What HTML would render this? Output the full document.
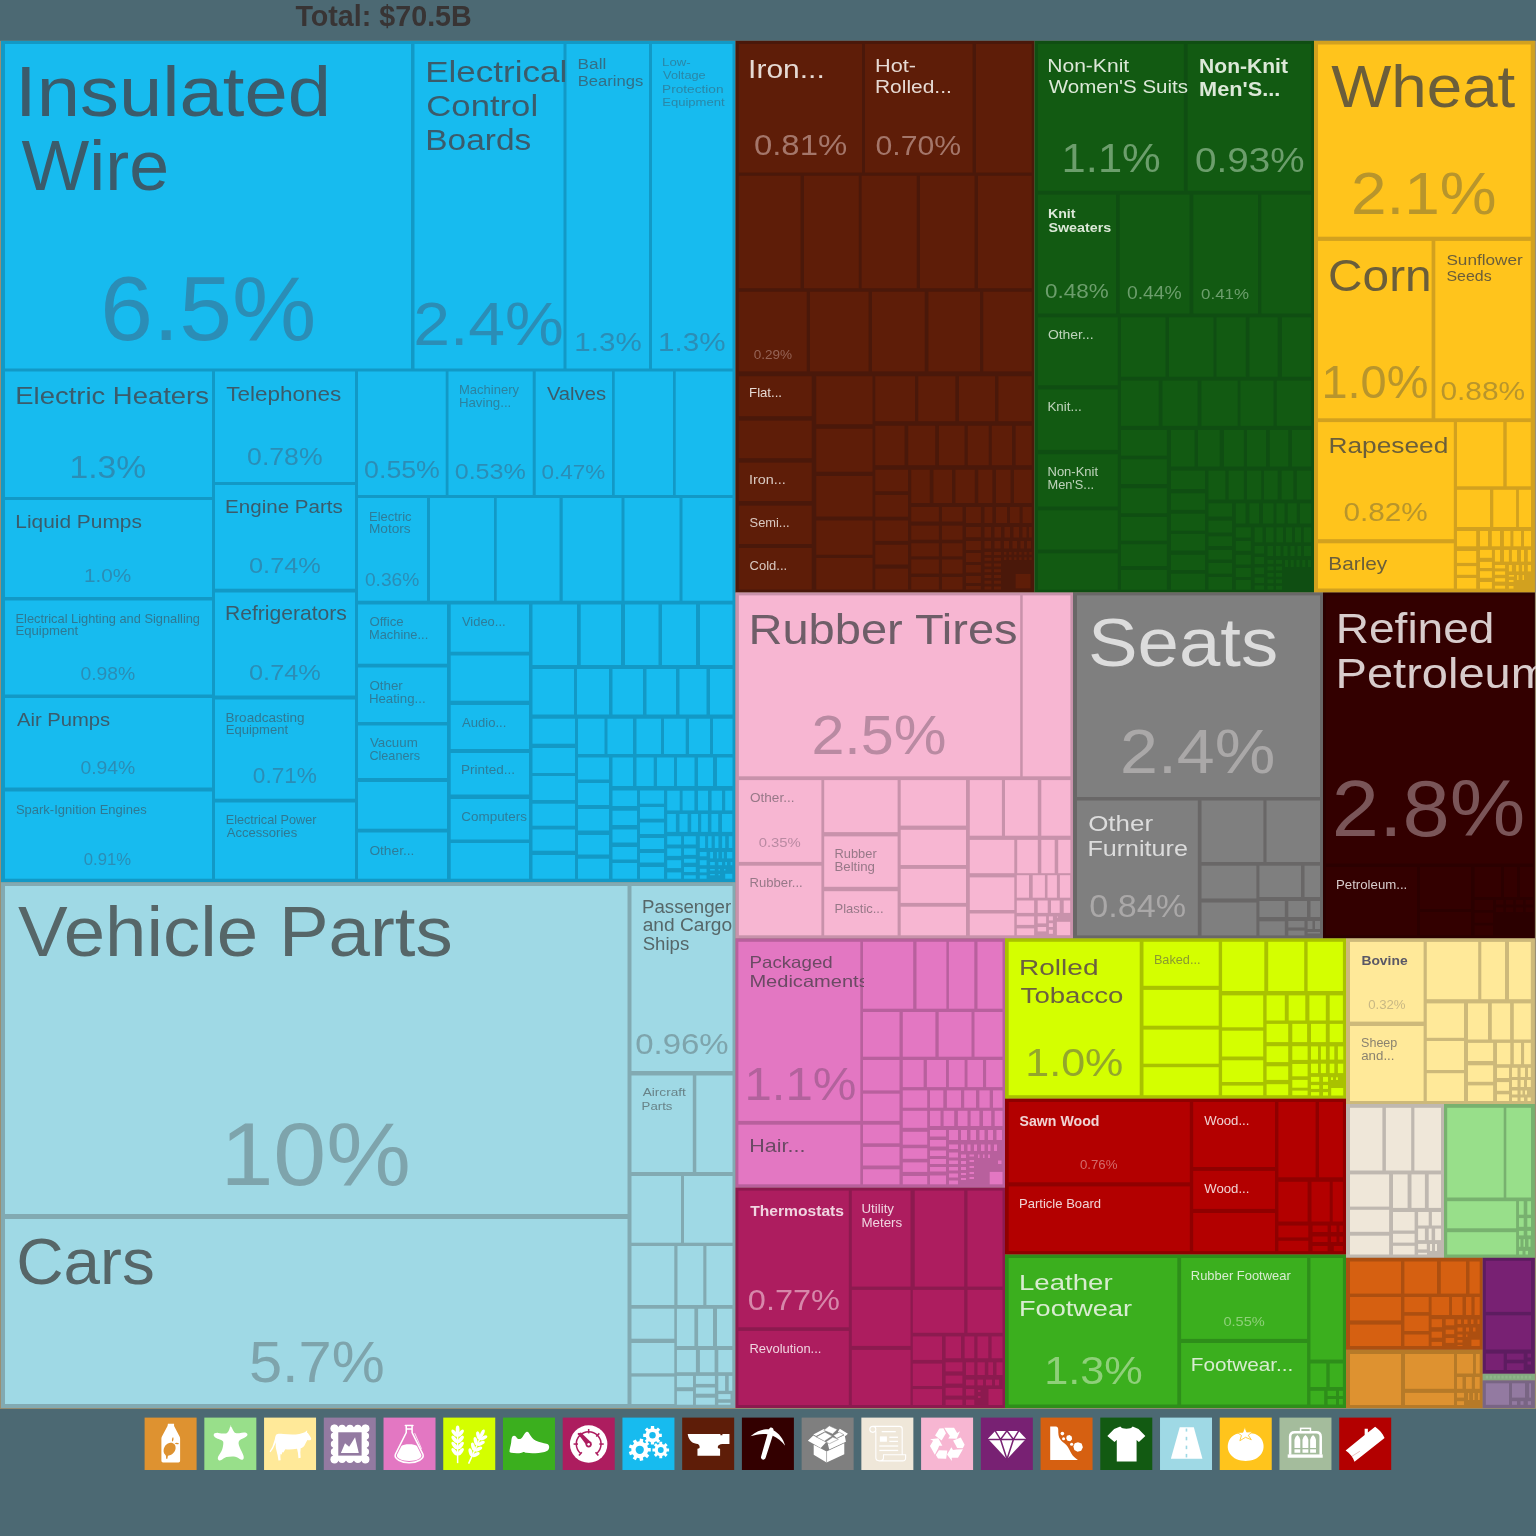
<!DOCTYPE html>
<html><head><meta charset="utf-8"><title>Treemap</title>
<style>
html,body{margin:0;padding:0;background:#4c6973;}
body{width:1536px;height:1536px;overflow:hidden;font-family:"Liberation Sans",sans-serif;}
svg{display:block;font-family:"Liberation Sans",sans-serif;filter:blur(0.55px);}
</style></head><body>
<svg width="1536" height="1536" viewBox="0 0 1536 1536">
<rect x="0" y="0" width="1536" height="1536" fill="#4c6973"/>
<defs><clipPath id="c0"><rect x="738.0" y="970.0" width="126.0" height="22.0"/></clipPath></defs>
<g>
<rect x="0.0" y="40.8" width="1536.0" height="1368.1" fill="#9a8f72"/>
<rect x="1.0" y="40.8" width="734.5" height="841.5" fill="#1299c6"/>
<rect x="5.0" y="44.0" width="406.0" height="324.5" fill="#17bbef"/>
<rect x="414.5" y="44.0" width="149.0" height="324.5" fill="#17bbef"/>
<rect x="566.5" y="44.0" width="82.5" height="324.5" fill="#17bbef"/>
<rect x="652.0" y="44.0" width="80.5" height="324.5" fill="#17bbef"/>
<rect x="5.0" y="371.5" width="207.0" height="125.5" fill="#17bbef"/>
<rect x="5.0" y="500.0" width="207.0" height="97.0" fill="#17bbef"/>
<rect x="5.0" y="600.5" width="207.0" height="94.0" fill="#17bbef"/>
<rect x="5.0" y="698.0" width="207.0" height="89.5" fill="#17bbef"/>
<rect x="5.0" y="791.5" width="207.0" height="87.2" fill="#17bbef"/>
<rect x="215.0" y="371.5" width="140.0" height="110.5" fill="#17bbef"/>
<rect x="215.0" y="485.0" width="140.0" height="103.7" fill="#17bbef"/>
<rect x="215.0" y="592.5" width="140.0" height="103.0" fill="#17bbef"/>
<rect x="215.0" y="699.5" width="140.0" height="99.2" fill="#17bbef"/>
<rect x="215.0" y="802.5" width="140.0" height="76.2" fill="#17bbef"/>
<rect x="358.0" y="371.5" width="87.7" height="123.5" fill="#17bbef"/>
<rect x="448.5" y="371.5" width="84.2" height="123.5" fill="#17bbef"/>
<rect x="535.7" y="371.5" width="76.3" height="123.5" fill="#17bbef"/>
<rect x="614.7" y="371.5" width="58.3" height="123.5" fill="#17bbef"/>
<rect x="675.7" y="371.5" width="56.8" height="123.5" fill="#17bbef"/>
<rect x="358.0" y="498.0" width="69.0" height="102.7" fill="#17bbef"/>
<rect x="430.0" y="498.0" width="64.0" height="102.7" fill="#17bbef"/>
<rect x="496.7" y="498.0" width="62.8" height="102.7" fill="#17bbef"/>
<rect x="562.7" y="498.0" width="58.8" height="102.7" fill="#17bbef"/>
<rect x="624.5" y="498.0" width="55.0" height="102.7" fill="#17bbef"/>
<rect x="682.5" y="498.0" width="50.0" height="102.7" fill="#17bbef"/>
<rect x="358.0" y="604.5" width="89.0" height="59.2" fill="#17bbef"/>
<rect x="358.0" y="667.5" width="89.0" height="54.5" fill="#17bbef"/>
<rect x="358.0" y="725.5" width="89.0" height="52.5" fill="#17bbef"/>
<rect x="358.0" y="782.0" width="89.0" height="46.7" fill="#17bbef"/>
<rect x="358.0" y="832.5" width="89.0" height="46.2" fill="#17bbef"/>
<rect x="450.7" y="604.5" width="78.3" height="47.2" fill="#17bbef"/>
<rect x="450.7" y="655.5" width="78.3" height="45.2" fill="#17bbef"/>
<rect x="450.7" y="705.0" width="78.3" height="44.0" fill="#17bbef"/>
<rect x="450.7" y="753.0" width="78.3" height="41.5" fill="#17bbef"/>
<rect x="450.7" y="799.0" width="78.3" height="40.5" fill="#17bbef"/>
<rect x="450.7" y="843.0" width="78.3" height="35.7" fill="#17bbef"/>
<rect x="532.5" y="604.5" width="44.5" height="60.5" fill="#17bbef"/>
<rect x="580.7" y="604.5" width="40.3" height="60.5" fill="#17bbef"/>
<rect x="625.0" y="604.5" width="33.5" height="60.5" fill="#17bbef"/>
<rect x="662.0" y="604.5" width="34.0" height="60.5" fill="#17bbef"/>
<rect x="700.0" y="604.5" width="32.5" height="60.5" fill="#17bbef"/>
<rect x="532.5" y="669.0" width="41.5" height="45.5" fill="#17bbef"/>
<rect x="577.0" y="669.0" width="32.0" height="45.5" fill="#17bbef"/>
<rect x="612.5" y="669.0" width="30.5" height="45.5" fill="#17bbef"/>
<rect x="646.5" y="669.0" width="29.5" height="45.5" fill="#17bbef"/>
<rect x="679.5" y="669.0" width="27.0" height="45.5" fill="#17bbef"/>
<rect x="710.0" y="669.0" width="22.5" height="45.5" fill="#17bbef"/>
<rect x="532.5" y="718.7" width="42.5" height="25.0" fill="#17bbef"/>
<rect x="532.5" y="748.0" width="42.5" height="25.0" fill="#17bbef"/>
<rect x="532.5" y="776.0" width="42.5" height="24.0" fill="#17bbef"/>
<rect x="532.5" y="803.7" width="42.5" height="22.0" fill="#17bbef"/>
<rect x="532.5" y="829.5" width="42.5" height="21.2" fill="#17bbef"/>
<rect x="532.5" y="855.0" width="42.5" height="23.7" fill="#17bbef"/>
<rect x="578.0" y="718.7" width="26.5" height="35.3" fill="#17bbef"/>
<rect x="607.5" y="718.7" width="25.5" height="35.3" fill="#17bbef"/>
<rect x="636.5" y="718.7" width="24.5" height="35.3" fill="#17bbef"/>
<rect x="664.0" y="718.7" width="21.7" height="35.3" fill="#17bbef"/>
<rect x="689.0" y="718.7" width="21.0" height="35.3" fill="#17bbef"/>
<rect x="713.0" y="718.7" width="19.5" height="35.3" fill="#17bbef"/>
<rect x="578.0" y="757.5" width="31.0" height="22.0" fill="#17bbef"/>
<rect x="578.0" y="783.0" width="31.0" height="22.0" fill="#17bbef"/>
<rect x="578.0" y="809.0" width="31.0" height="21.5" fill="#17bbef"/>
<rect x="578.0" y="835.0" width="31.0" height="19.5" fill="#17bbef"/>
<rect x="578.0" y="858.7" width="31.0" height="20.0" fill="#17bbef"/>
<rect x="612.5" y="757.5" width="20.5" height="28.5" fill="#17bbef"/>
<rect x="636.5" y="757.5" width="17.2" height="28.5" fill="#17bbef"/>
<rect x="657.0" y="757.5" width="17.0" height="28.5" fill="#17bbef"/>
<rect x="677.0" y="757.5" width="17.5" height="28.5" fill="#17bbef"/>
<rect x="698.0" y="757.5" width="15.0" height="28.5" fill="#17bbef"/>
<rect x="717.0" y="757.5" width="15.5" height="28.5" fill="#17bbef"/>
<rect x="612.5" y="790.5" width="24.5" height="15.5" fill="#17bbef"/>
<rect x="612.5" y="810.7" width="24.5" height="14.3" fill="#17bbef"/>
<rect x="612.5" y="829.5" width="24.5" height="13.0" fill="#17bbef"/>
<rect x="612.5" y="847.0" width="24.5" height="12.5" fill="#17bbef"/>
<rect x="612.5" y="863.0" width="24.5" height="15.7" fill="#17bbef"/>
<rect x="640.0" y="790.5" width="24.0" height="13.2" fill="#17bbef"/>
<rect x="640.0" y="807.0" width="24.0" height="11.7" fill="#17bbef"/>
<rect x="640.0" y="822.5" width="24.0" height="11.5" fill="#17bbef"/>
<rect x="640.0" y="838.0" width="24.0" height="11.0" fill="#17bbef"/>
<rect x="640.0" y="853.0" width="24.0" height="9.5" fill="#17bbef"/>
<rect x="640.0" y="867.0" width="24.0" height="11.7" fill="#17bbef"/>
<rect x="667.2" y="790.7" width="12.5" height="19.7" fill="#17bbef"/>
<rect x="682.6" y="790.7" width="11.8" height="19.7" fill="#17bbef"/>
<rect x="698.0" y="790.7" width="10.0" height="19.7" fill="#17bbef"/>
<rect x="711.6" y="790.7" width="10.4" height="19.7" fill="#17bbef"/>
<rect x="725.2" y="790.7" width="7.1" height="19.7" fill="#17bbef"/>
<rect x="667.2" y="814.0" width="8.7" height="17.9" fill="#17bbef"/>
<rect x="679.5" y="814.0" width="8.1" height="17.9" fill="#17bbef"/>
<rect x="691.2" y="814.0" width="6.8" height="17.9" fill="#17bbef"/>
<rect x="701.2" y="814.0" width="6.7" height="17.9" fill="#17bbef"/>
<rect x="711.4" y="814.0" width="6.8" height="17.9" fill="#17bbef"/>
<rect x="722.0" y="814.0" width="10.3" height="17.9" fill="#17bbef"/>
<rect x="667.2" y="836.2" width="13.9" height="8.3" fill="#17bbef"/>
<rect x="667.2" y="848.4" width="13.9" height="7.5" fill="#17bbef"/>
<rect x="667.2" y="860.2" width="13.9" height="7.9" fill="#17bbef"/>
<rect x="667.2" y="872.4" width="13.9" height="6.3" fill="#17bbef"/>
<rect x="684.0" y="836.2" width="11.8" height="8.3" fill="#17bbef"/>
<rect x="684.0" y="848.4" width="11.8" height="6.5" fill="#17bbef"/>
<rect x="684.0" y="858.8" width="11.8" height="3.9" fill="#17bbef"/>
<rect x="684.0" y="867.0" width="11.8" height="5.0" fill="#17bbef"/>
<rect x="684.0" y="875.3" width="11.8" height="3.4" fill="#17bbef"/>
<rect x="699.8" y="836.2" width="5.3" height="11.8" fill="#17bbef"/>
<rect x="708.1" y="836.2" width="3.5" height="11.8" fill="#17bbef"/>
<rect x="714.8" y="836.2" width="3.6" height="11.8" fill="#17bbef"/>
<rect x="722.1" y="836.2" width="3.1" height="11.8" fill="#17bbef"/>
<rect x="728.8" y="836.2" width="3.5" height="11.8" fill="#17bbef"/>
<rect x="699.8" y="852.0" width="6.8" height="4.3" fill="#17bbef"/>
<rect x="699.8" y="860.2" width="6.8" height="5.0" fill="#17bbef"/>
<rect x="699.8" y="868.8" width="6.8" height="3.6" fill="#17bbef"/>
<rect x="699.8" y="875.3" width="6.8" height="3.4" fill="#17bbef"/>
<rect x="710.1" y="852.0" width="2.9" height="6.4" fill="#17bbef"/>
<rect x="716.9" y="852.0" width="1.5" height="6.4" fill="#17bbef"/>
<rect x="722.1" y="852.0" width="1.7" height="6.4" fill="#17bbef"/>
<rect x="727.0" y="852.0" width="5.3" height="6.4" fill="#17bbef"/>
<rect x="710.1" y="862.0" width="4.7" height="3.2" fill="#17bbef"/>
<rect x="718.4" y="862.0" width="3.6" height="3.2" fill="#17bbef"/>
<rect x="725.2" y="862.0" width="1.8" height="3.2" fill="#17bbef"/>
<rect x="730.6" y="862.0" width="1.7" height="3.2" fill="#17bbef"/>
<rect x="710.1" y="869.0" width="4.7" height="1.5" fill="#17bbef"/>
<rect x="718.5" y="869.0" width="1.5" height="1.5" fill="#17bbef"/>
<rect x="724.0" y="869.0" width="1.5" height="1.5" fill="#17bbef"/>
<rect x="710.1" y="874.0" width="4.7" height="1.3" fill="#17bbef"/>
<rect x="718.5" y="874.0" width="1.5" height="1.3" fill="#17bbef"/>
<rect x="725.2" y="873.8" width="7.1" height="4.9" fill="#17bbef"/>
<rect x="1.0" y="882.3" width="734.5" height="525.7" fill="#82aab2"/>
<rect x="5.0" y="886.0" width="622.5" height="328.0" fill="#9fd9e5"/>
<rect x="5.0" y="1219.0" width="622.5" height="185.0" fill="#9fd9e5"/>
<rect x="631.5" y="886.0" width="101.0" height="185.0" fill="#9fd9e5"/>
<rect x="631.5" y="1075.5" width="61.3" height="96.5" fill="#9fd9e5"/>
<rect x="696.3" y="1075.5" width="36.2" height="96.5" fill="#9fd9e5"/>
<rect x="631.5" y="1176.0" width="49.5" height="66.7" fill="#9fd9e5"/>
<rect x="684.0" y="1176.0" width="48.5" height="66.7" fill="#9fd9e5"/>
<rect x="631.5" y="1246.0" width="42.8" height="59.0" fill="#9fd9e5"/>
<rect x="677.5" y="1246.0" width="25.8" height="59.0" fill="#9fd9e5"/>
<rect x="706.4" y="1246.0" width="26.1" height="59.0" fill="#9fd9e5"/>
<rect x="631.5" y="1308.7" width="42.8" height="30.0" fill="#9fd9e5"/>
<rect x="631.5" y="1343.0" width="42.8" height="30.3" fill="#9fd9e5"/>
<rect x="631.5" y="1376.6" width="42.8" height="27.4" fill="#9fd9e5"/>
<rect x="676.9" y="1308.8" width="17.5" height="37.2" fill="#9fd9e5"/>
<rect x="698.1" y="1308.8" width="14.9" height="37.2" fill="#9fd9e5"/>
<rect x="717.0" y="1308.8" width="15.3" height="37.2" fill="#9fd9e5"/>
<rect x="676.9" y="1350.0" width="19.0" height="22.2" fill="#9fd9e5"/>
<rect x="699.9" y="1350.0" width="14.7" height="22.2" fill="#9fd9e5"/>
<rect x="718.3" y="1350.0" width="14.0" height="22.2" fill="#9fd9e5"/>
<rect x="676.9" y="1375.9" width="16.1" height="11.3" fill="#9fd9e5"/>
<rect x="676.9" y="1391.2" width="16.1" height="13.5" fill="#9fd9e5"/>
<rect x="695.9" y="1375.9" width="19.0" height="8.0" fill="#9fd9e5"/>
<rect x="695.9" y="1387.5" width="19.0" height="6.2" fill="#9fd9e5"/>
<rect x="695.9" y="1397.7" width="19.0" height="7.0" fill="#9fd9e5"/>
<rect x="718.3" y="1375.9" width="6.8" height="14.9" fill="#9fd9e5"/>
<rect x="728.7" y="1375.9" width="3.6" height="14.9" fill="#9fd9e5"/>
<rect x="718.3" y="1394.1" width="12.2" height="5.1" fill="#9fd9e5"/>
<rect x="718.3" y="1402.8" width="12.2" height="1.9" fill="#9fd9e5"/>
<rect x="735.5" y="40.8" width="299.0" height="551.7" fill="#4a180a"/>
<rect x="738.7" y="44.0" width="123.3" height="128.6" fill="#5e1d08"/>
<rect x="865.0" y="44.0" width="107.6" height="128.6" fill="#5e1d08"/>
<rect x="976.0" y="44.0" width="55.7" height="128.6" fill="#5e1d08"/>
<rect x="738.7" y="175.7" width="61.9" height="112.6" fill="#5e1d08"/>
<rect x="804.0" y="175.7" width="54.8" height="112.6" fill="#5e1d08"/>
<rect x="861.6" y="175.7" width="55.1" height="112.6" fill="#5e1d08"/>
<rect x="920.0" y="175.7" width="54.6" height="112.6" fill="#5e1d08"/>
<rect x="978.0" y="175.7" width="53.7" height="112.6" fill="#5e1d08"/>
<rect x="738.7" y="291.7" width="68.0" height="79.7" fill="#5e1d08"/>
<rect x="810.0" y="291.7" width="58.6" height="79.7" fill="#5e1d08"/>
<rect x="872.0" y="291.7" width="52.7" height="79.7" fill="#5e1d08"/>
<rect x="928.4" y="291.7" width="51.6" height="79.7" fill="#5e1d08"/>
<rect x="983.3" y="291.7" width="48.4" height="79.7" fill="#5e1d08"/>
<rect x="738.7" y="376.2" width="73.0" height="40.0" fill="#5e1d08"/>
<rect x="738.7" y="420.6" width="73.0" height="37.6" fill="#5e1d08"/>
<rect x="738.7" y="462.6" width="73.0" height="38.4" fill="#5e1d08"/>
<rect x="738.7" y="505.6" width="73.0" height="38.4" fill="#5e1d08"/>
<rect x="738.7" y="548.0" width="73.0" height="41.5" fill="#5e1d08"/>
<rect x="816.2" y="376.2" width="56.3" height="48.1" fill="#5e1d08"/>
<rect x="816.2" y="428.7" width="56.3" height="43.0" fill="#5e1d08"/>
<rect x="816.2" y="476.0" width="56.3" height="40.5" fill="#5e1d08"/>
<rect x="816.2" y="520.5" width="56.3" height="34.3" fill="#5e1d08"/>
<rect x="816.2" y="558.0" width="56.3" height="31.5" fill="#5e1d08"/>
<rect x="875.3" y="376.2" width="39.7" height="45.0" fill="#5e1d08"/>
<rect x="918.3" y="376.2" width="37.1" height="45.0" fill="#5e1d08"/>
<rect x="959.0" y="376.2" width="36.0" height="45.0" fill="#5e1d08"/>
<rect x="998.4" y="376.2" width="33.3" height="45.0" fill="#5e1d08"/>
<rect x="875.3" y="425.7" width="29.3" height="39.5" fill="#5e1d08"/>
<rect x="908.2" y="425.7" width="27.0" height="39.5" fill="#5e1d08"/>
<rect x="938.9" y="425.7" width="25.6" height="39.5" fill="#5e1d08"/>
<rect x="967.7" y="425.7" width="21.0" height="39.5" fill="#5e1d08"/>
<rect x="991.8" y="425.7" width="20.2" height="39.5" fill="#5e1d08"/>
<rect x="1015.6" y="425.7" width="16.1" height="39.5" fill="#5e1d08"/>
<rect x="875.3" y="469.7" width="32.7" height="21.6" fill="#5e1d08"/>
<rect x="875.3" y="494.9" width="32.7" height="21.8" fill="#5e1d08"/>
<rect x="875.3" y="520.5" width="32.7" height="20.4" fill="#5e1d08"/>
<rect x="875.3" y="544.7" width="32.7" height="19.8" fill="#5e1d08"/>
<rect x="875.3" y="568.6" width="32.7" height="20.9" fill="#5e1d08"/>
<rect x="911.2" y="469.7" width="18.6" height="33.3" fill="#5e1d08"/>
<rect x="933.4" y="469.7" width="18.6" height="33.3" fill="#5e1d08"/>
<rect x="955.4" y="469.7" width="19.4" height="33.3" fill="#5e1d08"/>
<rect x="978.2" y="469.7" width="14.2" height="33.3" fill="#5e1d08"/>
<rect x="996.0" y="469.7" width="14.5" height="33.3" fill="#5e1d08"/>
<rect x="1014.0" y="469.7" width="17.7" height="33.3" fill="#5e1d08"/>
<rect x="911.2" y="507.0" width="27.7" height="14.5" fill="#5e1d08"/>
<rect x="911.2" y="525.6" width="27.7" height="14.1" fill="#5e1d08"/>
<rect x="911.2" y="543.3" width="27.7" height="13.1" fill="#5e1d08"/>
<rect x="911.2" y="559.5" width="27.7" height="14.1" fill="#5e1d08"/>
<rect x="911.2" y="577.0" width="27.7" height="12.5" fill="#5e1d08"/>
<rect x="942.0" y="507.0" width="20.5" height="14.5" fill="#5e1d08"/>
<rect x="942.0" y="525.6" width="20.5" height="14.1" fill="#5e1d08"/>
<rect x="942.0" y="543.3" width="20.5" height="13.1" fill="#5e1d08"/>
<rect x="942.0" y="559.5" width="20.5" height="14.1" fill="#5e1d08"/>
<rect x="942.0" y="577.0" width="20.5" height="12.5" fill="#5e1d08"/>
<rect x="966.0" y="507.0" width="14.9" height="16.0" fill="#5e1d08"/>
<rect x="966.0" y="527.0" width="14.9" height="10.3" fill="#5e1d08"/>
<rect x="966.0" y="541.0" width="14.9" height="9.0" fill="#5e1d08"/>
<rect x="966.0" y="553.0" width="14.9" height="9.0" fill="#5e1d08"/>
<rect x="966.0" y="565.0" width="14.9" height="7.6" fill="#5e1d08"/>
<rect x="966.0" y="576.0" width="14.9" height="7.0" fill="#5e1d08"/>
<rect x="966.0" y="586.0" width="14.9" height="3.5" fill="#5e1d08"/>
<rect x="984.5" y="507.0" width="7.9" height="16.0" fill="#5e1d08"/>
<rect x="996.0" y="507.0" width="11.0" height="16.0" fill="#5e1d08"/>
<rect x="1010.0" y="507.0" width="9.6" height="16.0" fill="#5e1d08"/>
<rect x="1022.6" y="507.0" width="9.1" height="16.0" fill="#5e1d08"/>
<rect x="984.5" y="527.0" width="6.5" height="10.5" fill="#5e1d08"/>
<rect x="994.5" y="527.0" width="6.5" height="10.5" fill="#5e1d08"/>
<rect x="1004.5" y="527.0" width="5.5" height="10.5" fill="#5e1d08"/>
<rect x="1013.5" y="527.0" width="5.5" height="10.5" fill="#5e1d08"/>
<rect x="1022.5" y="527.0" width="4.0" height="10.5" fill="#5e1d08"/>
<rect x="1029.0" y="527.0" width="2.7" height="10.5" fill="#5e1d08"/>
<rect x="984.5" y="541.0" width="6.5" height="7.5" fill="#5e1d08"/>
<rect x="994.5" y="541.0" width="6.0" height="7.5" fill="#5e1d08"/>
<rect x="1004.0" y="541.0" width="5.0" height="7.5" fill="#5e1d08"/>
<rect x="1012.5" y="541.0" width="4.5" height="7.5" fill="#5e1d08"/>
<rect x="1020.5" y="541.0" width="3.5" height="7.5" fill="#5e1d08"/>
<rect x="1027.0" y="541.0" width="4.0" height="7.5" fill="#5e1d08"/>
<rect x="984.5" y="552.0" width="6.9" height="3.1" fill="#5e1d08"/>
<rect x="984.5" y="557.7" width="6.9" height="3.1" fill="#5e1d08"/>
<rect x="984.5" y="563.5" width="6.9" height="3.1" fill="#5e1d08"/>
<rect x="984.5" y="569.2" width="6.9" height="3.1" fill="#5e1d08"/>
<rect x="984.5" y="574.9" width="6.9" height="3.1" fill="#5e1d08"/>
<rect x="984.5" y="580.6" width="6.9" height="3.1" fill="#5e1d08"/>
<rect x="984.5" y="586.4" width="6.9" height="3.1" fill="#5e1d08"/>
<rect x="994.0" y="552.0" width="7.0" height="3.1" fill="#5e1d08"/>
<rect x="994.0" y="557.7" width="7.0" height="3.1" fill="#5e1d08"/>
<rect x="994.0" y="563.5" width="7.0" height="3.1" fill="#5e1d08"/>
<rect x="994.0" y="569.2" width="7.0" height="3.1" fill="#5e1d08"/>
<rect x="994.0" y="574.9" width="7.0" height="3.1" fill="#5e1d08"/>
<rect x="994.0" y="580.6" width="7.0" height="3.1" fill="#5e1d08"/>
<rect x="994.0" y="586.4" width="7.0" height="3.1" fill="#5e1d08"/>
<rect x="1004.0" y="552.0" width="2.4" height="2.7" fill="#5e1d08"/>
<rect x="1004.0" y="557.3" width="2.4" height="2.7" fill="#5e1d08"/>
<rect x="1009.0" y="552.0" width="2.5" height="2.7" fill="#5e1d08"/>
<rect x="1009.0" y="557.3" width="2.5" height="2.7" fill="#5e1d08"/>
<rect x="1014.1" y="552.0" width="2.4" height="2.7" fill="#5e1d08"/>
<rect x="1014.1" y="557.3" width="2.4" height="2.7" fill="#5e1d08"/>
<rect x="1019.1" y="552.0" width="2.5" height="2.7" fill="#5e1d08"/>
<rect x="1019.1" y="557.3" width="2.5" height="2.7" fill="#5e1d08"/>
<rect x="1024.2" y="552.0" width="2.5" height="2.7" fill="#5e1d08"/>
<rect x="1024.2" y="557.3" width="2.5" height="2.7" fill="#5e1d08"/>
<rect x="1029.2" y="552.0" width="2.5" height="2.7" fill="#5e1d08"/>
<rect x="1029.2" y="557.3" width="2.5" height="2.7" fill="#5e1d08"/>
<rect x="1015.6" y="574.0" width="15.0" height="14.4" fill="#5e1d08"/>
<rect x="1034.5" y="40.8" width="279.5" height="551.7" fill="#0f4e12"/>
<rect x="1038.0" y="44.0" width="145.9" height="146.8" fill="#125a12"/>
<rect x="1187.6" y="44.0" width="123.7" height="146.8" fill="#125a12"/>
<rect x="1038.0" y="194.6" width="78.0" height="118.9" fill="#125a12"/>
<rect x="1119.7" y="194.6" width="69.8" height="118.9" fill="#125a12"/>
<rect x="1193.3" y="194.6" width="64.7" height="118.9" fill="#125a12"/>
<rect x="1261.3" y="194.6" width="50.0" height="118.9" fill="#125a12"/>
<rect x="1038.0" y="317.3" width="79.8" height="68.0" fill="#125a12"/>
<rect x="1038.0" y="389.4" width="79.8" height="60.5" fill="#125a12"/>
<rect x="1038.0" y="454.2" width="79.8" height="52.3" fill="#125a12"/>
<rect x="1038.0" y="510.3" width="79.8" height="39.2" fill="#125a12"/>
<rect x="1038.0" y="553.3" width="79.8" height="36.4" fill="#125a12"/>
<rect x="1121.0" y="317.3" width="44.5" height="59.5" fill="#125a12"/>
<rect x="1169.0" y="317.3" width="44.5" height="59.5" fill="#125a12"/>
<rect x="1216.5" y="317.3" width="29.3" height="59.5" fill="#125a12"/>
<rect x="1249.5" y="317.3" width="28.2" height="59.5" fill="#125a12"/>
<rect x="1282.0" y="317.3" width="29.3" height="59.5" fill="#125a12"/>
<rect x="1121.0" y="380.6" width="37.7" height="45.3" fill="#125a12"/>
<rect x="1162.5" y="380.6" width="35.1" height="45.3" fill="#125a12"/>
<rect x="1201.4" y="380.6" width="36.3" height="45.3" fill="#125a12"/>
<rect x="1240.5" y="380.6" width="33.0" height="45.3" fill="#125a12"/>
<rect x="1276.7" y="380.6" width="34.6" height="45.3" fill="#125a12"/>
<rect x="1121.0" y="430.0" width="45.9" height="25.7" fill="#125a12"/>
<rect x="1121.0" y="459.3" width="45.9" height="24.7" fill="#125a12"/>
<rect x="1121.0" y="488.2" width="45.9" height="25.1" fill="#125a12"/>
<rect x="1121.0" y="516.9" width="45.9" height="23.8" fill="#125a12"/>
<rect x="1121.0" y="544.2" width="45.9" height="21.9" fill="#125a12"/>
<rect x="1121.0" y="569.9" width="45.9" height="19.8" fill="#125a12"/>
<rect x="1171.0" y="430.0" width="23.6" height="36.5" fill="#125a12"/>
<rect x="1198.0" y="430.0" width="21.7" height="36.5" fill="#125a12"/>
<rect x="1224.0" y="430.0" width="19.9" height="36.5" fill="#125a12"/>
<rect x="1247.0" y="430.0" width="19.0" height="36.5" fill="#125a12"/>
<rect x="1269.8" y="430.0" width="18.5" height="36.5" fill="#125a12"/>
<rect x="1292.0" y="430.0" width="19.3" height="36.5" fill="#125a12"/>
<rect x="1171.0" y="470.6" width="34.0" height="18.4" fill="#125a12"/>
<rect x="1171.0" y="493.3" width="34.0" height="16.6" fill="#125a12"/>
<rect x="1171.0" y="513.7" width="34.0" height="17.0" fill="#125a12"/>
<rect x="1171.0" y="533.9" width="34.0" height="16.6" fill="#125a12"/>
<rect x="1171.0" y="554.8" width="34.0" height="15.2" fill="#125a12"/>
<rect x="1171.0" y="573.7" width="34.0" height="16.0" fill="#125a12"/>
<rect x="1208.4" y="470.6" width="17.0" height="28.9" fill="#125a12"/>
<rect x="1228.6" y="470.6" width="15.3" height="28.9" fill="#125a12"/>
<rect x="1247.0" y="470.6" width="14.3" height="28.9" fill="#125a12"/>
<rect x="1264.0" y="470.6" width="13.7" height="28.9" fill="#125a12"/>
<rect x="1281.6" y="470.6" width="11.8" height="28.9" fill="#125a12"/>
<rect x="1296.8" y="470.6" width="14.5" height="28.9" fill="#125a12"/>
<rect x="1208.4" y="503.3" width="23.6" height="13.2" fill="#125a12"/>
<rect x="1208.4" y="520.6" width="23.6" height="11.9" fill="#125a12"/>
<rect x="1208.4" y="536.3" width="23.6" height="9.7" fill="#125a12"/>
<rect x="1208.4" y="550.0" width="23.6" height="9.5" fill="#125a12"/>
<rect x="1208.4" y="563.0" width="23.6" height="10.7" fill="#125a12"/>
<rect x="1208.4" y="577.0" width="23.6" height="12.7" fill="#125a12"/>
<rect x="1235.8" y="503.3" width="9.8" height="20.2" fill="#125a12"/>
<rect x="1249.4" y="503.3" width="9.6" height="20.2" fill="#125a12"/>
<rect x="1263.0" y="503.3" width="10.5" height="20.2" fill="#125a12"/>
<rect x="1276.4" y="503.3" width="8.1" height="20.2" fill="#125a12"/>
<rect x="1287.7" y="503.3" width="9.1" height="20.2" fill="#125a12"/>
<rect x="1300.0" y="503.3" width="11.3" height="20.2" fill="#125a12"/>
<rect x="1235.8" y="527.3" width="15.1" height="10.3" fill="#125a12"/>
<rect x="1235.8" y="541.0" width="15.1" height="9.9" fill="#125a12"/>
<rect x="1235.8" y="554.8" width="15.1" height="9.8" fill="#125a12"/>
<rect x="1235.8" y="568.0" width="15.1" height="9.0" fill="#125a12"/>
<rect x="1235.8" y="580.0" width="15.1" height="9.7" fill="#125a12"/>
<rect x="1254.6" y="527.3" width="8.0" height="15.1" fill="#125a12"/>
<rect x="1266.0" y="527.3" width="7.5" height="15.1" fill="#125a12"/>
<rect x="1276.4" y="527.3" width="6.6" height="15.1" fill="#125a12"/>
<rect x="1286.0" y="527.3" width="6.0" height="15.1" fill="#125a12"/>
<rect x="1295.0" y="527.3" width="6.0" height="15.1" fill="#125a12"/>
<rect x="1303.7" y="527.3" width="7.6" height="15.1" fill="#125a12"/>
<rect x="1254.6" y="546.0" width="9.4" height="7.5" fill="#125a12"/>
<rect x="1254.6" y="557.0" width="9.4" height="7.0" fill="#125a12"/>
<rect x="1254.6" y="567.5" width="9.4" height="6.5" fill="#125a12"/>
<rect x="1254.6" y="577.5" width="9.4" height="5.5" fill="#125a12"/>
<rect x="1254.6" y="585.5" width="9.4" height="4.2" fill="#125a12"/>
<rect x="1267.5" y="546.0" width="5.5" height="10.0" fill="#125a12"/>
<rect x="1276.0" y="546.0" width="4.5" height="10.0" fill="#125a12"/>
<rect x="1283.5" y="546.0" width="4.0" height="10.0" fill="#125a12"/>
<rect x="1290.5" y="546.0" width="4.0" height="10.0" fill="#125a12"/>
<rect x="1297.5" y="546.0" width="3.5" height="10.0" fill="#125a12"/>
<rect x="1304.0" y="546.0" width="7.0" height="10.0" fill="#125a12"/>
<rect x="1267.5" y="560.0" width="6.0" height="3.9" fill="#125a12"/>
<rect x="1267.5" y="566.5" width="6.0" height="3.9" fill="#125a12"/>
<rect x="1267.5" y="572.9" width="6.0" height="3.9" fill="#125a12"/>
<rect x="1267.5" y="579.4" width="6.0" height="3.9" fill="#125a12"/>
<rect x="1267.5" y="585.8" width="6.0" height="3.9" fill="#125a12"/>
<rect x="1276.0" y="560.0" width="6.0" height="3.9" fill="#125a12"/>
<rect x="1276.0" y="566.5" width="6.0" height="3.9" fill="#125a12"/>
<rect x="1276.0" y="572.9" width="6.0" height="3.9" fill="#125a12"/>
<rect x="1276.0" y="579.4" width="6.0" height="3.9" fill="#125a12"/>
<rect x="1276.0" y="585.8" width="6.0" height="3.9" fill="#125a12"/>
<rect x="1285.0" y="560.0" width="3.1" height="7.0" fill="#125a12"/>
<rect x="1290.7" y="560.0" width="3.1" height="7.0" fill="#125a12"/>
<rect x="1296.4" y="560.0" width="3.1" height="7.0" fill="#125a12"/>
<rect x="1302.2" y="560.0" width="3.1" height="7.0" fill="#125a12"/>
<rect x="1307.9" y="560.0" width="3.1" height="7.0" fill="#125a12"/>
<rect x="1314.0" y="40.8" width="220.9" height="551.7" fill="#d2a11f"/>
<rect x="1318.0" y="44.5" width="212.7" height="192.2" fill="#ffc41c"/>
<rect x="1318.0" y="240.9" width="113.6" height="177.4" fill="#ffc41c"/>
<rect x="1435.3" y="240.9" width="95.4" height="177.4" fill="#ffc41c"/>
<rect x="1318.0" y="422.1" width="135.8" height="117.1" fill="#ffc41c"/>
<rect x="1318.0" y="543.3" width="135.8" height="45.2" fill="#ffc41c"/>
<rect x="1457.0" y="422.1" width="46.3" height="64.2" fill="#ffc41c"/>
<rect x="1506.7" y="422.1" width="24.0" height="64.2" fill="#ffc41c"/>
<rect x="1457.0" y="489.8" width="33.0" height="37.2" fill="#ffc41c"/>
<rect x="1493.3" y="489.8" width="22.8" height="37.2" fill="#ffc41c"/>
<rect x="1518.9" y="489.8" width="12.1" height="37.2" fill="#ffc41c"/>
<rect x="1457.0" y="531.0" width="19.2" height="15.3" fill="#ffc41c"/>
<rect x="1480.0" y="531.0" width="8.0" height="15.3" fill="#ffc41c"/>
<rect x="1491.8" y="531.0" width="8.2" height="15.3" fill="#ffc41c"/>
<rect x="1503.9" y="531.0" width="6.5" height="15.3" fill="#ffc41c"/>
<rect x="1513.4" y="531.0" width="7.6" height="15.3" fill="#ffc41c"/>
<rect x="1524.0" y="531.0" width="7.0" height="15.3" fill="#ffc41c"/>
<rect x="1457.0" y="551.0" width="19.2" height="11.9" fill="#ffc41c"/>
<rect x="1457.0" y="566.1" width="19.2" height="8.7" fill="#ffc41c"/>
<rect x="1457.0" y="578.0" width="19.2" height="10.6" fill="#ffc41c"/>
<rect x="1480.0" y="549.9" width="11.9" height="7.9" fill="#ffc41c"/>
<rect x="1480.0" y="561.9" width="11.9" height="6.1" fill="#ffc41c"/>
<rect x="1480.0" y="571.2" width="11.9" height="6.6" fill="#ffc41c"/>
<rect x="1480.0" y="582.0" width="11.9" height="6.6" fill="#ffc41c"/>
<rect x="1494.9" y="549.9" width="5.1" height="11.7" fill="#ffc41c"/>
<rect x="1504.0" y="549.9" width="4.9" height="11.7" fill="#ffc41c"/>
<rect x="1511.9" y="549.9" width="5.1" height="11.7" fill="#ffc41c"/>
<rect x="1521.0" y="549.9" width="3.0" height="11.7" fill="#ffc41c"/>
<rect x="1527.8" y="549.9" width="3.2" height="11.7" fill="#ffc41c"/>
<rect x="1494.9" y="565.0" width="10.2" height="3.4" fill="#ffc41c"/>
<rect x="1494.9" y="571.4" width="10.2" height="3.4" fill="#ffc41c"/>
<rect x="1494.9" y="578.2" width="10.2" height="3.4" fill="#ffc41c"/>
<rect x="1494.9" y="585.7" width="10.2" height="2.9" fill="#ffc41c"/>
<rect x="1508.9" y="565.0" width="3.0" height="6.4" fill="#ffc41c"/>
<rect x="1516.1" y="565.0" width="2.6" height="6.4" fill="#ffc41c"/>
<rect x="1522.1" y="565.0" width="1.9" height="6.4" fill="#ffc41c"/>
<rect x="1527.8" y="565.0" width="3.2" height="6.4" fill="#ffc41c"/>
<rect x="1508.9" y="575.0" width="5.1" height="1.6" fill="#ffc41c"/>
<rect x="1508.9" y="580.0" width="4.6" height="2.0" fill="#ffc41c"/>
<rect x="1508.9" y="586.0" width="4.6" height="2.6" fill="#ffc41c"/>
<rect x="1517.0" y="575.0" width="1.6" height="5.0" fill="#ffc41c"/>
<rect x="1522.5" y="575.0" width="1.5" height="5.0" fill="#ffc41c"/>
<rect x="735.5" y="592.5" width="337.5" height="345.9" fill="#c892ab"/>
<rect x="738.9" y="595.4" width="281.3" height="180.9" fill="#f7b6d2"/>
<rect x="1022.7" y="595.4" width="47.7" height="180.9" fill="#f7b6d2"/>
<rect x="738.9" y="780.1" width="82.5" height="81.8" fill="#f7b6d2"/>
<rect x="738.9" y="865.7" width="82.5" height="69.6" fill="#f7b6d2"/>
<rect x="824.2" y="780.1" width="73.4" height="52.0" fill="#f7b6d2"/>
<rect x="824.2" y="836.4" width="73.4" height="50.4" fill="#f7b6d2"/>
<rect x="824.2" y="891.2" width="73.4" height="44.1" fill="#f7b6d2"/>
<rect x="900.7" y="780.1" width="65.3" height="45.5" fill="#f7b6d2"/>
<rect x="900.7" y="829.8" width="65.3" height="35.2" fill="#f7b6d2"/>
<rect x="900.7" y="868.9" width="65.3" height="34.0" fill="#f7b6d2"/>
<rect x="900.7" y="906.7" width="65.3" height="28.6" fill="#f7b6d2"/>
<rect x="969.8" y="780.1" width="32.1" height="55.6" fill="#f7b6d2"/>
<rect x="1005.0" y="780.1" width="32.8" height="55.6" fill="#f7b6d2"/>
<rect x="1041.3" y="780.1" width="29.1" height="55.6" fill="#f7b6d2"/>
<rect x="969.8" y="839.9" width="44.5" height="33.3" fill="#f7b6d2"/>
<rect x="1017.2" y="839.9" width="20.6" height="33.3" fill="#f7b6d2"/>
<rect x="1041.3" y="839.9" width="13.4" height="33.3" fill="#f7b6d2"/>
<rect x="1058.2" y="839.9" width="12.2" height="33.3" fill="#f7b6d2"/>
<rect x="969.8" y="877.4" width="44.5" height="32.6" fill="#f7b6d2"/>
<rect x="969.8" y="913.5" width="44.5" height="21.8" fill="#f7b6d2"/>
<rect x="1016.8" y="875.2" width="12.2" height="22.5" fill="#f7b6d2"/>
<rect x="1032.7" y="875.2" width="12.2" height="22.5" fill="#f7b6d2"/>
<rect x="1047.5" y="875.2" width="9.4" height="22.5" fill="#f7b6d2"/>
<rect x="1059.9" y="875.2" width="10.3" height="22.5" fill="#f7b6d2"/>
<rect x="1016.8" y="900.5" width="17.3" height="12.4" fill="#f7b6d2"/>
<rect x="1037.7" y="900.5" width="10.0" height="12.4" fill="#f7b6d2"/>
<rect x="1051.0" y="900.5" width="8.7" height="12.4" fill="#f7b6d2"/>
<rect x="1063.7" y="900.5" width="6.5" height="12.4" fill="#f7b6d2"/>
<rect x="1016.8" y="916.4" width="17.3" height="8.5" fill="#f7b6d2"/>
<rect x="1016.8" y="928.4" width="17.3" height="6.8" fill="#f7b6d2"/>
<rect x="1037.7" y="916.4" width="8.4" height="7.0" fill="#f7b6d2"/>
<rect x="1037.7" y="927.0" width="8.4" height="4.4" fill="#f7b6d2"/>
<rect x="1048.9" y="916.4" width="4.0" height="4.0" fill="#f7b6d2"/>
<rect x="1048.9" y="923.2" width="4.0" height="3.8" fill="#f7b6d2"/>
<rect x="1048.9" y="929.8" width="4.0" height="4.0" fill="#f7b6d2"/>
<rect x="1056.9" y="921.8" width="13.3" height="13.4" fill="#f7b6d2"/>
<rect x="1057.0" y="916.6" width="1.0" height="1.0" fill="#f7b6d2"/>
<rect x="1073.0" y="592.5" width="250.0" height="345.9" fill="#696767"/>
<rect x="1077.0" y="595.4" width="243.0" height="201.6" fill="#7f7f7f"/>
<rect x="1077.0" y="800.5" width="120.8" height="134.9" fill="#7f7f7f"/>
<rect x="1201.5" y="800.5" width="61.9" height="61.5" fill="#7f7f7f"/>
<rect x="1266.5" y="800.5" width="53.5" height="61.5" fill="#7f7f7f"/>
<rect x="1201.5" y="865.7" width="54.9" height="32.8" fill="#7f7f7f"/>
<rect x="1201.5" y="902.5" width="54.9" height="32.9" fill="#7f7f7f"/>
<rect x="1259.4" y="865.7" width="41.6" height="31.3" fill="#7f7f7f"/>
<rect x="1304.5" y="865.7" width="15.5" height="31.3" fill="#7f7f7f"/>
<rect x="1259.4" y="901.0" width="25.4" height="16.0" fill="#7f7f7f"/>
<rect x="1288.3" y="901.0" width="18.7" height="16.0" fill="#7f7f7f"/>
<rect x="1310.5" y="901.0" width="9.5" height="16.0" fill="#7f7f7f"/>
<rect x="1259.4" y="921.3" width="25.4" height="14.1" fill="#7f7f7f"/>
<rect x="1288.3" y="921.0" width="16.2" height="6.5" fill="#7f7f7f"/>
<rect x="1288.3" y="930.6" width="16.2" height="4.8" fill="#7f7f7f"/>
<rect x="1307.6" y="921.0" width="4.9" height="8.0" fill="#7f7f7f"/>
<rect x="1315.0" y="921.0" width="5.0" height="8.0" fill="#7f7f7f"/>
<rect x="1307.6" y="932.0" width="12.4" height="1.5" fill="#7f7f7f"/>
<rect x="1323.0" y="592.5" width="211.9" height="345.9" fill="#2b0000"/>
<rect x="1326.0" y="595.4" width="207.0" height="268.2" fill="#330000"/>
<rect x="1326.0" y="867.0" width="91.0" height="68.4" fill="#330000"/>
<rect x="1420.0" y="867.0" width="51.0" height="42.0" fill="#330000"/>
<rect x="1420.0" y="912.0" width="51.0" height="23.4" fill="#330000"/>
<rect x="1474.5" y="867.0" width="26.5" height="30.0" fill="#330000"/>
<rect x="1504.0" y="867.0" width="13.0" height="30.0" fill="#330000"/>
<rect x="1520.0" y="867.0" width="13.0" height="30.0" fill="#330000"/>
<rect x="1474.5" y="900.0" width="18.5" height="10.1" fill="#330000"/>
<rect x="1474.5" y="912.7" width="18.5" height="10.1" fill="#330000"/>
<rect x="1474.5" y="925.3" width="18.5" height="10.1" fill="#330000"/>
<rect x="1496.0" y="900.0" width="7.3" height="4.7" fill="#330000"/>
<rect x="1496.0" y="907.3" width="7.3" height="4.7" fill="#330000"/>
<rect x="1505.9" y="900.0" width="7.3" height="4.7" fill="#330000"/>
<rect x="1505.9" y="907.3" width="7.3" height="4.7" fill="#330000"/>
<rect x="1515.8" y="900.0" width="7.3" height="4.7" fill="#330000"/>
<rect x="1515.8" y="907.3" width="7.3" height="4.7" fill="#330000"/>
<rect x="1525.7" y="900.0" width="7.3" height="4.7" fill="#330000"/>
<rect x="1525.7" y="907.3" width="7.3" height="4.7" fill="#330000"/>
<rect x="735.5" y="938.4" width="269.5" height="249.3" fill="#b8609d"/>
<rect x="738.4" y="941.8" width="121.9" height="179.1" fill="#e377c2"/>
<rect x="738.4" y="1124.7" width="121.9" height="59.6" fill="#e377c2"/>
<rect x="863.0" y="941.8" width="50.2" height="66.9" fill="#e377c2"/>
<rect x="916.5" y="941.8" width="29.9" height="66.9" fill="#e377c2"/>
<rect x="948.9" y="941.8" width="25.4" height="66.9" fill="#e377c2"/>
<rect x="977.5" y="941.8" width="25.0" height="66.9" fill="#e377c2"/>
<rect x="863.0" y="1012.0" width="36.5" height="44.7" fill="#e377c2"/>
<rect x="902.8" y="1012.0" width="32.6" height="44.7" fill="#e377c2"/>
<rect x="938.7" y="1012.0" width="32.8" height="44.7" fill="#e377c2"/>
<rect x="974.5" y="1012.0" width="28.0" height="44.7" fill="#e377c2"/>
<rect x="863.0" y="1060.0" width="36.5" height="30.4" fill="#e377c2"/>
<rect x="863.0" y="1093.7" width="36.5" height="27.2" fill="#e377c2"/>
<rect x="863.0" y="1124.7" width="36.5" height="18.6" fill="#e377c2"/>
<rect x="863.0" y="1146.9" width="36.5" height="18.6" fill="#e377c2"/>
<rect x="863.0" y="1169.3" width="36.5" height="15.0" fill="#e377c2"/>
<rect x="902.8" y="1060.0" width="20.8" height="27.1" fill="#e377c2"/>
<rect x="926.9" y="1060.0" width="19.1" height="27.1" fill="#e377c2"/>
<rect x="948.9" y="1060.0" width="15.7" height="27.1" fill="#e377c2"/>
<rect x="967.5" y="1060.0" width="15.5" height="27.1" fill="#e377c2"/>
<rect x="986.1" y="1060.0" width="16.4" height="27.1" fill="#e377c2"/>
<rect x="902.8" y="1090.4" width="24.4" height="17.3" fill="#e377c2"/>
<rect x="902.8" y="1110.8" width="24.4" height="17.0" fill="#e377c2"/>
<rect x="902.8" y="1131.8" width="24.4" height="12.9" fill="#e377c2"/>
<rect x="902.8" y="1148.2" width="24.4" height="10.6" fill="#e377c2"/>
<rect x="902.8" y="1162.4" width="24.4" height="9.5" fill="#e377c2"/>
<rect x="902.8" y="1176.0" width="24.4" height="8.3" fill="#e377c2"/>
<rect x="930.0" y="1090.4" width="13.3" height="17.3" fill="#e377c2"/>
<rect x="946.9" y="1090.4" width="14.1" height="17.3" fill="#e377c2"/>
<rect x="964.2" y="1090.4" width="11.8" height="17.3" fill="#e377c2"/>
<rect x="979.4" y="1090.4" width="10.3" height="17.3" fill="#e377c2"/>
<rect x="993.0" y="1090.4" width="9.5" height="17.3" fill="#e377c2"/>
<rect x="930.0" y="1110.8" width="10.5" height="15.2" fill="#e377c2"/>
<rect x="943.6" y="1110.8" width="10.6" height="15.2" fill="#e377c2"/>
<rect x="957.9" y="1110.8" width="9.6" height="15.2" fill="#e377c2"/>
<rect x="970.6" y="1110.8" width="8.8" height="15.2" fill="#e377c2"/>
<rect x="983.0" y="1110.8" width="8.2" height="15.2" fill="#e377c2"/>
<rect x="994.7" y="1110.8" width="7.8" height="15.2" fill="#e377c2"/>
<rect x="930.0" y="1130.0" width="16.0" height="6.5" fill="#e377c2"/>
<rect x="930.0" y="1140.0" width="16.0" height="6.5" fill="#e377c2"/>
<rect x="930.0" y="1150.5" width="16.0" height="5.5" fill="#e377c2"/>
<rect x="930.0" y="1159.0" width="16.0" height="5.0" fill="#e377c2"/>
<rect x="930.0" y="1167.0" width="16.0" height="4.5" fill="#e377c2"/>
<rect x="930.0" y="1175.5" width="16.0" height="8.8" fill="#e377c2"/>
<rect x="949.0" y="1130.0" width="9.0" height="10.0" fill="#e377c2"/>
<rect x="961.0" y="1130.0" width="6.0" height="10.0" fill="#e377c2"/>
<rect x="970.5" y="1130.0" width="5.5" height="10.0" fill="#e377c2"/>
<rect x="979.5" y="1130.0" width="5.0" height="10.0" fill="#e377c2"/>
<rect x="988.0" y="1130.0" width="5.0" height="10.0" fill="#e377c2"/>
<rect x="996.5" y="1130.0" width="5.5" height="10.0" fill="#e377c2"/>
<rect x="949.0" y="1144.5" width="9.0" height="4.5" fill="#e377c2"/>
<rect x="949.0" y="1152.5" width="9.0" height="5.0" fill="#e377c2"/>
<rect x="949.0" y="1160.5" width="9.0" height="3.5" fill="#e377c2"/>
<rect x="949.0" y="1167.0" width="9.0" height="3.5" fill="#e377c2"/>
<rect x="949.0" y="1173.5" width="9.0" height="4.0" fill="#e377c2"/>
<rect x="949.0" y="1180.5" width="9.0" height="3.8" fill="#e377c2"/>
<rect x="961.0" y="1144.5" width="3.0" height="6.5" fill="#e377c2"/>
<rect x="967.5" y="1144.5" width="3.0" height="6.5" fill="#e377c2"/>
<rect x="974.0" y="1144.5" width="3.0" height="6.5" fill="#e377c2"/>
<rect x="981.0" y="1144.5" width="3.5" height="6.5" fill="#e377c2"/>
<rect x="988.0" y="1144.5" width="2.5" height="6.5" fill="#e377c2"/>
<rect x="994.0" y="1144.5" width="3.0" height="6.5" fill="#e377c2"/>
<rect x="961.0" y="1154.5" width="5.0" height="3.5" fill="#e377c2"/>
<rect x="961.0" y="1161.0" width="5.0" height="3.0" fill="#e377c2"/>
<rect x="961.0" y="1167.0" width="5.0" height="3.0" fill="#e377c2"/>
<rect x="961.0" y="1173.0" width="5.0" height="2.0" fill="#e377c2"/>
<rect x="961.0" y="1178.0" width="5.0" height="2.0" fill="#e377c2"/>
<rect x="969.5" y="1154.5" width="4.5" height="2.0" fill="#e377c2"/>
<rect x="969.5" y="1160.0" width="4.5" height="2.0" fill="#e377c2"/>
<rect x="969.5" y="1166.0" width="4.5" height="2.0" fill="#e377c2"/>
<rect x="969.5" y="1172.0" width="4.5" height="2.0" fill="#e377c2"/>
<rect x="969.5" y="1177.0" width="4.5" height="2.0" fill="#e377c2"/>
<rect x="978.0" y="1154.5" width="1.5" height="3.5" fill="#e377c2"/>
<rect x="983.0" y="1154.5" width="1.5" height="3.5" fill="#e377c2"/>
<rect x="988.0" y="1154.5" width="2.0" height="3.5" fill="#e377c2"/>
<rect x="998.0" y="1160.5" width="3.5" height="3.5" fill="#e377c2"/>
<rect x="989.7" y="1171.9" width="12.8" height="12.4" fill="#e377c2"/>
<rect x="735.5" y="1187.7" width="269.5" height="220.3" fill="#8c1a4f"/>
<rect x="738.4" y="1190.6" width="110.4" height="136.7" fill="#ad1d5f"/>
<rect x="738.4" y="1330.9" width="110.4" height="74.1" fill="#ad1d5f"/>
<rect x="851.8" y="1190.6" width="58.7" height="96.0" fill="#ad1d5f"/>
<rect x="851.8" y="1289.9" width="58.7" height="56.0" fill="#ad1d5f"/>
<rect x="851.8" y="1349.9" width="58.7" height="55.1" fill="#ad1d5f"/>
<rect x="914.7" y="1190.6" width="49.5" height="96.0" fill="#ad1d5f"/>
<rect x="967.5" y="1190.6" width="35.0" height="96.0" fill="#ad1d5f"/>
<rect x="912.8" y="1289.9" width="51.4" height="42.9" fill="#ad1d5f"/>
<rect x="967.5" y="1289.9" width="35.0" height="42.9" fill="#ad1d5f"/>
<rect x="912.8" y="1336.4" width="29.2" height="23.5" fill="#ad1d5f"/>
<rect x="912.8" y="1363.6" width="29.2" height="22.4" fill="#ad1d5f"/>
<rect x="912.8" y="1389.1" width="29.2" height="15.9" fill="#ad1d5f"/>
<rect x="945.6" y="1336.4" width="15.4" height="21.9" fill="#ad1d5f"/>
<rect x="964.6" y="1336.4" width="9.7" height="21.9" fill="#ad1d5f"/>
<rect x="977.5" y="1336.4" width="10.8" height="21.9" fill="#ad1d5f"/>
<rect x="991.6" y="1336.4" width="10.9" height="21.9" fill="#ad1d5f"/>
<rect x="945.6" y="1362.3" width="16.8" height="9.1" fill="#ad1d5f"/>
<rect x="945.6" y="1375.6" width="16.8" height="8.0" fill="#ad1d5f"/>
<rect x="945.6" y="1387.8" width="16.8" height="7.8" fill="#ad1d5f"/>
<rect x="945.6" y="1399.6" width="16.8" height="5.4" fill="#ad1d5f"/>
<rect x="966.0" y="1362.3" width="8.3" height="12.7" fill="#ad1d5f"/>
<rect x="977.5" y="1362.3" width="7.3" height="12.7" fill="#ad1d5f"/>
<rect x="988.3" y="1362.3" width="4.7" height="12.7" fill="#ad1d5f"/>
<rect x="996.5" y="1362.3" width="6.0" height="12.7" fill="#ad1d5f"/>
<rect x="966.0" y="1379.6" width="8.3" height="5.8" fill="#ad1d5f"/>
<rect x="977.5" y="1379.6" width="5.5" height="5.8" fill="#ad1d5f"/>
<rect x="986.0" y="1379.6" width="6.0" height="5.8" fill="#ad1d5f"/>
<rect x="995.0" y="1379.6" width="4.0" height="5.8" fill="#ad1d5f"/>
<rect x="966.0" y="1389.0" width="8.3" height="6.6" fill="#ad1d5f"/>
<rect x="966.0" y="1399.6" width="8.3" height="5.4" fill="#ad1d5f"/>
<rect x="988.5" y="1389.0" width="14.0" height="16.0" fill="#ad1d5f"/>
<rect x="978.0" y="1390.0" width="2.5" height="2.0" fill="#ad1d5f"/>
<rect x="978.0" y="1396.0" width="2.5" height="2.0" fill="#ad1d5f"/>
<rect x="1005.0" y="938.4" width="341.0" height="160.3" fill="#a9c200"/>
<rect x="1008.7" y="941.8" width="131.0" height="153.4" fill="#d4ff00"/>
<rect x="1143.5" y="941.8" width="75.2" height="44.0" fill="#d4ff00"/>
<rect x="1143.5" y="989.9" width="75.2" height="35.8" fill="#d4ff00"/>
<rect x="1143.5" y="1029.6" width="75.2" height="34.1" fill="#d4ff00"/>
<rect x="1143.5" y="1067.2" width="75.2" height="28.0" fill="#d4ff00"/>
<rect x="1222.1" y="941.8" width="42.2" height="49.2" fill="#d4ff00"/>
<rect x="1268.2" y="941.8" width="36.0" height="49.2" fill="#d4ff00"/>
<rect x="1307.6" y="941.8" width="35.3" height="49.2" fill="#d4ff00"/>
<rect x="1222.1" y="995.4" width="41.1" height="31.9" fill="#d4ff00"/>
<rect x="1222.1" y="1030.7" width="41.1" height="25.8" fill="#d4ff00"/>
<rect x="1222.1" y="1060.3" width="41.1" height="21.7" fill="#d4ff00"/>
<rect x="1222.1" y="1085.6" width="41.1" height="9.6" fill="#d4ff00"/>
<rect x="1266.6" y="995.4" width="18.2" height="25.1" fill="#d4ff00"/>
<rect x="1288.7" y="995.4" width="16.6" height="25.1" fill="#d4ff00"/>
<rect x="1309.4" y="995.4" width="16.4" height="25.1" fill="#d4ff00"/>
<rect x="1329.7" y="995.4" width="13.2" height="25.1" fill="#d4ff00"/>
<rect x="1266.6" y="1023.9" width="21.6" height="18.2" fill="#d4ff00"/>
<rect x="1292.3" y="1023.9" width="14.8" height="18.2" fill="#d4ff00"/>
<rect x="1311.0" y="1023.9" width="14.8" height="18.2" fill="#d4ff00"/>
<rect x="1329.7" y="1023.9" width="13.2" height="18.2" fill="#d4ff00"/>
<rect x="1266.6" y="1046.2" width="21.6" height="15.9" fill="#d4ff00"/>
<rect x="1266.6" y="1066.3" width="21.6" height="13.6" fill="#d4ff00"/>
<rect x="1266.6" y="1084.2" width="21.6" height="11.0" fill="#d4ff00"/>
<rect x="1292.3" y="1046.2" width="15.3" height="13.7" fill="#d4ff00"/>
<rect x="1292.3" y="1064.0" width="15.3" height="12.3" fill="#d4ff00"/>
<rect x="1292.3" y="1079.9" width="15.3" height="7.8" fill="#d4ff00"/>
<rect x="1292.3" y="1090.6" width="15.3" height="4.6" fill="#d4ff00"/>
<rect x="1311.0" y="1046.4" width="7.0" height="13.2" fill="#d4ff00"/>
<rect x="1320.9" y="1046.4" width="5.0" height="13.2" fill="#d4ff00"/>
<rect x="1329.7" y="1046.4" width="4.6" height="13.2" fill="#d4ff00"/>
<rect x="1337.9" y="1046.4" width="5.3" height="13.2" fill="#d4ff00"/>
<rect x="1311.0" y="1063.7" width="7.0" height="9.4" fill="#d4ff00"/>
<rect x="1320.9" y="1063.7" width="5.0" height="9.4" fill="#d4ff00"/>
<rect x="1329.7" y="1063.7" width="4.6" height="9.4" fill="#d4ff00"/>
<rect x="1337.9" y="1063.7" width="5.3" height="9.4" fill="#d4ff00"/>
<rect x="1311.0" y="1076.9" width="8.2" height="4.9" fill="#d4ff00"/>
<rect x="1311.0" y="1085.1" width="8.2" height="3.8" fill="#d4ff00"/>
<rect x="1311.0" y="1092.1" width="8.2" height="3.4" fill="#d4ff00"/>
<rect x="1323.0" y="1076.9" width="5.0" height="4.9" fill="#d4ff00"/>
<rect x="1323.0" y="1085.1" width="5.0" height="3.8" fill="#d4ff00"/>
<rect x="1323.0" y="1092.1" width="5.0" height="3.4" fill="#d4ff00"/>
<rect x="1331.0" y="1077.3" width="2.0" height="2.7" fill="#d4ff00"/>
<rect x="1336.0" y="1077.3" width="2.0" height="2.7" fill="#d4ff00"/>
<rect x="1331.2" y="1088.0" width="12.0" height="7.5" fill="#d4ff00"/>
<rect x="1005.0" y="1098.7" width="341.0" height="155.9" fill="#8f0000"/>
<rect x="1008.7" y="1102.0" width="181.1" height="80.3" fill="#b30000"/>
<rect x="1008.7" y="1186.4" width="181.1" height="64.7" fill="#b30000"/>
<rect x="1193.2" y="1102.0" width="81.8" height="65.0" fill="#b30000"/>
<rect x="1193.2" y="1170.9" width="81.8" height="38.0" fill="#b30000"/>
<rect x="1193.2" y="1213.0" width="81.8" height="38.1" fill="#b30000"/>
<rect x="1278.4" y="1102.0" width="37.2" height="75.3" fill="#b30000"/>
<rect x="1319.0" y="1102.0" width="23.9" height="75.3" fill="#b30000"/>
<rect x="1278.4" y="1181.8" width="29.2" height="39.7" fill="#b30000"/>
<rect x="1311.5" y="1181.8" width="18.2" height="39.7" fill="#b30000"/>
<rect x="1332.7" y="1181.8" width="10.2" height="39.7" fill="#b30000"/>
<rect x="1278.4" y="1225.6" width="29.9" height="11.8" fill="#b30000"/>
<rect x="1278.4" y="1240.8" width="29.9" height="10.3" fill="#b30000"/>
<rect x="1312.6" y="1225.6" width="15.0" height="6.4" fill="#b30000"/>
<rect x="1312.6" y="1236.5" width="15.0" height="5.5" fill="#b30000"/>
<rect x="1312.6" y="1246.0" width="15.0" height="5.1" fill="#b30000"/>
<rect x="1331.0" y="1225.6" width="5.5" height="6.4" fill="#b30000"/>
<rect x="1339.5" y="1225.6" width="3.4" height="6.4" fill="#b30000"/>
<rect x="1331.0" y="1236.5" width="5.5" height="5.5" fill="#b30000"/>
<rect x="1339.5" y="1236.5" width="3.4" height="5.5" fill="#b30000"/>
<rect x="1333.8" y="1246.0" width="9.1" height="5.1" fill="#b30000"/>
<rect x="1005.0" y="1254.6" width="341.0" height="153.4" fill="#2e8e1a"/>
<rect x="1008.7" y="1258.0" width="168.6" height="146.5" fill="#3baf1e"/>
<rect x="1181.1" y="1258.0" width="126.0" height="80.9" fill="#3baf1e"/>
<rect x="1181.1" y="1343.0" width="126.0" height="61.5" fill="#3baf1e"/>
<rect x="1310.5" y="1258.0" width="32.4" height="101.6" fill="#3baf1e"/>
<rect x="1310.5" y="1363.5" width="15.8" height="23.5" fill="#3baf1e"/>
<rect x="1329.7" y="1363.5" width="13.2" height="23.5" fill="#3baf1e"/>
<rect x="1310.5" y="1390.8" width="13.7" height="13.7" fill="#3baf1e"/>
<rect x="1327.6" y="1390.8" width="8.4" height="5.2" fill="#3baf1e"/>
<rect x="1327.6" y="1399.0" width="8.4" height="5.5" fill="#3baf1e"/>
<rect x="1339.0" y="1390.8" width="3.9" height="5.2" fill="#3baf1e"/>
<rect x="1339.0" y="1399.0" width="3.9" height="5.5" fill="#3baf1e"/>
<rect x="1346.0" y="938.4" width="188.9" height="165.6" fill="#cdb97a"/>
<rect x="1350.0" y="941.9" width="73.6" height="79.7" fill="#ffe999"/>
<rect x="1350.0" y="1026.0" width="73.6" height="75.0" fill="#ffe999"/>
<rect x="1426.8" y="941.9" width="51.4" height="57.3" fill="#ffe999"/>
<rect x="1481.3" y="941.9" width="23.7" height="57.3" fill="#ffe999"/>
<rect x="1509.0" y="941.9" width="21.8" height="57.3" fill="#ffe999"/>
<rect x="1426.8" y="1003.4" width="37.2" height="34.4" fill="#ffe999"/>
<rect x="1426.8" y="1041.0" width="37.2" height="29.0" fill="#ffe999"/>
<rect x="1426.8" y="1073.2" width="37.2" height="27.8" fill="#ffe999"/>
<rect x="1468.0" y="1003.4" width="20.0" height="36.1" fill="#ffe999"/>
<rect x="1491.8" y="1003.4" width="18.3" height="36.1" fill="#ffe999"/>
<rect x="1513.8" y="1003.4" width="17.0" height="36.1" fill="#ffe999"/>
<rect x="1468.0" y="1042.9" width="25.1" height="18.1" fill="#ffe999"/>
<rect x="1468.0" y="1065.3" width="25.1" height="16.5" fill="#ffe999"/>
<rect x="1468.0" y="1085.4" width="25.1" height="15.6" fill="#ffe999"/>
<rect x="1497.0" y="1042.9" width="13.3" height="21.3" fill="#ffe999"/>
<rect x="1513.8" y="1042.9" width="7.2" height="21.3" fill="#ffe999"/>
<rect x="1524.1" y="1042.9" width="6.7" height="21.3" fill="#ffe999"/>
<rect x="1497.0" y="1067.8" width="12.0" height="10.2" fill="#ffe999"/>
<rect x="1497.0" y="1082.1" width="12.0" height="8.7" fill="#ffe999"/>
<rect x="1497.0" y="1094.3" width="12.0" height="6.7" fill="#ffe999"/>
<rect x="1512.0" y="1067.8" width="5.5" height="9.2" fill="#ffe999"/>
<rect x="1520.6" y="1067.8" width="4.4" height="9.2" fill="#ffe999"/>
<rect x="1528.0" y="1067.8" width="2.8" height="9.2" fill="#ffe999"/>
<rect x="1512.0" y="1080.0" width="5.5" height="7.0" fill="#ffe999"/>
<rect x="1520.6" y="1080.0" width="3.4" height="7.0" fill="#ffe999"/>
<rect x="1527.0" y="1080.0" width="3.8" height="7.0" fill="#ffe999"/>
<rect x="1512.0" y="1090.5" width="5.5" height="4.0" fill="#ffe999"/>
<rect x="1520.6" y="1090.5" width="1.9" height="4.0" fill="#ffe999"/>
<rect x="1525.0" y="1090.5" width="2.0" height="4.0" fill="#ffe999"/>
<rect x="1512.0" y="1097.5" width="5.5" height="3.5" fill="#ffe999"/>
<rect x="1520.6" y="1097.5" width="3.4" height="3.5" fill="#ffe999"/>
<rect x="1527.5" y="1097.5" width="3.3" height="3.5" fill="#ffe999"/>
<rect x="1346.0" y="1104.0" width="98.0" height="153.8" fill="#bfb8b0"/>
<rect x="1350.0" y="1107.8" width="32.4" height="62.7" fill="#efe7d9"/>
<rect x="1385.9" y="1107.8" width="25.3" height="62.7" fill="#efe7d9"/>
<rect x="1414.4" y="1107.8" width="26.6" height="62.7" fill="#efe7d9"/>
<rect x="1350.0" y="1174.4" width="39.1" height="32.2" fill="#efe7d9"/>
<rect x="1350.0" y="1209.8" width="39.1" height="22.0" fill="#efe7d9"/>
<rect x="1350.0" y="1235.7" width="39.1" height="18.8" fill="#efe7d9"/>
<rect x="1393.0" y="1174.4" width="14.6" height="33.5" fill="#efe7d9"/>
<rect x="1411.5" y="1174.4" width="13.4" height="33.5" fill="#efe7d9"/>
<rect x="1428.7" y="1174.4" width="12.3" height="33.5" fill="#efe7d9"/>
<rect x="1393.0" y="1212.0" width="21.6" height="18.5" fill="#efe7d9"/>
<rect x="1393.0" y="1233.8" width="21.6" height="8.8" fill="#efe7d9"/>
<rect x="1393.0" y="1245.8" width="21.6" height="8.7" fill="#efe7d9"/>
<rect x="1418.1" y="1212.0" width="10.6" height="13.5" fill="#efe7d9"/>
<rect x="1431.9" y="1212.0" width="9.1" height="13.5" fill="#efe7d9"/>
<rect x="1418.1" y="1228.6" width="6.8" height="11.5" fill="#efe7d9"/>
<rect x="1428.7" y="1228.6" width="2.9" height="11.5" fill="#efe7d9"/>
<rect x="1435.1" y="1228.6" width="5.9" height="11.5" fill="#efe7d9"/>
<rect x="1418.1" y="1243.9" width="8.7" height="5.5" fill="#efe7d9"/>
<rect x="1430.0" y="1244.0" width="2.0" height="7.0" fill="#efe7d9"/>
<rect x="1435.0" y="1244.0" width="2.0" height="7.0" fill="#efe7d9"/>
<rect x="1418.1" y="1252.8" width="8.9" height="1.7" fill="#efe7d9"/>
<rect x="1444.0" y="1104.0" width="90.9" height="153.8" fill="#78b16f"/>
<rect x="1447.2" y="1107.8" width="56.5" height="89.7" fill="#98df8a"/>
<rect x="1506.3" y="1107.8" width="24.7" height="89.7" fill="#98df8a"/>
<rect x="1447.2" y="1201.2" width="68.9" height="27.1" fill="#98df8a"/>
<rect x="1447.2" y="1232.2" width="68.9" height="22.3" fill="#98df8a"/>
<rect x="1519.0" y="1201.2" width="4.7" height="13.5" fill="#98df8a"/>
<rect x="1527.3" y="1201.2" width="3.7" height="13.5" fill="#98df8a"/>
<rect x="1519.0" y="1218.1" width="4.7" height="8.7" fill="#98df8a"/>
<rect x="1527.3" y="1218.1" width="3.7" height="8.7" fill="#98df8a"/>
<rect x="1519.0" y="1230.9" width="4.7" height="4.5" fill="#98df8a"/>
<rect x="1527.3" y="1230.9" width="3.7" height="4.5" fill="#98df8a"/>
<rect x="1519.0" y="1239.2" width="1.5" height="7.6" fill="#98df8a"/>
<rect x="1523.5" y="1239.2" width="1.5" height="7.6" fill="#98df8a"/>
<rect x="1528.5" y="1239.2" width="2.0" height="7.6" fill="#98df8a"/>
<rect x="1519.0" y="1250.9" width="3.5" height="3.6" fill="#98df8a"/>
<rect x="1525.5" y="1250.9" width="2.5" height="3.6" fill="#98df8a"/>
<rect x="1346.0" y="1257.8" width="136.7" height="92.0" fill="#ad4f10"/>
<rect x="1350.0" y="1261.5" width="51.0" height="32.1" fill="#d66011"/>
<rect x="1404.4" y="1261.5" width="32.6" height="32.1" fill="#d66011"/>
<rect x="1440.8" y="1261.5" width="25.2" height="32.1" fill="#d66011"/>
<rect x="1469.5" y="1261.5" width="10.2" height="32.1" fill="#d66011"/>
<rect x="1350.0" y="1297.0" width="51.0" height="23.4" fill="#d66011"/>
<rect x="1350.0" y="1324.6" width="51.0" height="21.4" fill="#d66011"/>
<rect x="1404.4" y="1297.0" width="24.3" height="15.1" fill="#d66011"/>
<rect x="1404.4" y="1315.7" width="24.3" height="15.3" fill="#d66011"/>
<rect x="1404.4" y="1334.5" width="24.3" height="11.5" fill="#d66011"/>
<rect x="1431.6" y="1297.0" width="17.5" height="18.0" fill="#d66011"/>
<rect x="1452.0" y="1297.0" width="10.5" height="18.0" fill="#d66011"/>
<rect x="1466.0" y="1297.0" width="5.4" height="18.0" fill="#d66011"/>
<rect x="1474.6" y="1297.0" width="5.1" height="18.0" fill="#d66011"/>
<rect x="1431.6" y="1319.2" width="10.4" height="8.0" fill="#d66011"/>
<rect x="1431.6" y="1331.7" width="10.4" height="6.0" fill="#d66011"/>
<rect x="1431.6" y="1341.9" width="10.4" height="4.1" fill="#d66011"/>
<rect x="1445.7" y="1319.2" width="8.5" height="6.1" fill="#d66011"/>
<rect x="1445.7" y="1329.7" width="8.5" height="4.5" fill="#d66011"/>
<rect x="1445.7" y="1338.0" width="8.5" height="4.9" fill="#d66011"/>
<rect x="1457.5" y="1319.5" width="3.5" height="4.5" fill="#d66011"/>
<rect x="1464.0" y="1319.5" width="3.5" height="4.5" fill="#d66011"/>
<rect x="1471.0" y="1319.5" width="2.5" height="4.5" fill="#d66011"/>
<rect x="1477.5" y="1319.5" width="2.0" height="4.5" fill="#d66011"/>
<rect x="1457.5" y="1327.5" width="5.0" height="4.0" fill="#d66011"/>
<rect x="1466.0" y="1327.5" width="3.0" height="4.0" fill="#d66011"/>
<rect x="1473.0" y="1327.5" width="2.5" height="4.0" fill="#d66011"/>
<rect x="1457.5" y="1334.5" width="5.0" height="2.5" fill="#d66011"/>
<rect x="1466.0" y="1334.5" width="1.5" height="2.5" fill="#d66011"/>
<rect x="1457.5" y="1340.0" width="5.0" height="2.5" fill="#d66011"/>
<rect x="1471.4" y="1339.7" width="8.3" height="6.3" fill="#d66011"/>
<rect x="1457.5" y="1345.0" width="5.0" height="1.0" fill="#d66011"/>
<rect x="1346.0" y="1349.8" width="136.7" height="58.2" fill="#b67a28"/>
<rect x="1350.0" y="1354.0" width="51.0" height="51.0" fill="#de9230"/>
<rect x="1405.0" y="1354.0" width="49.0" height="34.8" fill="#de9230"/>
<rect x="1405.0" y="1392.9" width="49.0" height="12.1" fill="#de9230"/>
<rect x="1457.0" y="1354.0" width="16.0" height="19.5" fill="#de9230"/>
<rect x="1475.9" y="1354.0" width="3.8" height="19.5" fill="#de9230"/>
<rect x="1457.0" y="1377.0" width="5.5" height="11.8" fill="#de9230"/>
<rect x="1466.0" y="1377.0" width="5.8" height="11.8" fill="#de9230"/>
<rect x="1474.9" y="1377.0" width="4.8" height="11.8" fill="#de9230"/>
<rect x="1457.0" y="1392.9" width="7.0" height="4.7" fill="#de9230"/>
<rect x="1457.0" y="1401.2" width="7.0" height="3.8" fill="#de9230"/>
<rect x="1468.0" y="1393.0" width="1.2" height="7.0" fill="#de9230"/>
<rect x="1473.0" y="1393.0" width="1.5" height="7.0" fill="#de9230"/>
<rect x="1478.0" y="1393.0" width="1.7" height="7.0" fill="#de9230"/>
<rect x="1482.7" y="1257.8" width="52.2" height="116.0" fill="#5d1c60"/>
<rect x="1485.8" y="1260.8" width="45.2" height="51.1" fill="#782173"/>
<rect x="1485.8" y="1315.3" width="45.2" height="34.2" fill="#782173"/>
<rect x="1485.8" y="1353.6" width="17.9" height="16.4" fill="#782173"/>
<rect x="1506.9" y="1353.6" width="16.8" height="6.1" fill="#782173"/>
<rect x="1506.9" y="1363.3" width="16.8" height="6.7" fill="#782173"/>
<rect x="1527.5" y="1353.6" width="3.5" height="3.9" fill="#782173"/>
<rect x="1527.5" y="1361.5" width="3.5" height="3.0" fill="#782173"/>
<rect x="1482.7" y="1373.8" width="52.2" height="6.6" fill="#84ab80"/>
<rect x="1485.8" y="1375.6" width="2.3" height="3.0" fill="#8fb58a"/>
<rect x="1489.7" y="1375.6" width="2.3" height="3.0" fill="#8fb58a"/>
<rect x="1493.6" y="1375.6" width="2.3" height="3.0" fill="#8fb58a"/>
<rect x="1497.5" y="1375.6" width="2.3" height="3.0" fill="#8fb58a"/>
<rect x="1501.4" y="1375.6" width="2.3" height="3.0" fill="#8fb58a"/>
<rect x="1505.3" y="1375.6" width="2.3" height="3.0" fill="#8fb58a"/>
<rect x="1509.2" y="1375.6" width="2.3" height="3.0" fill="#8fb58a"/>
<rect x="1513.1" y="1375.6" width="2.3" height="3.0" fill="#8fb58a"/>
<rect x="1517.0" y="1375.6" width="2.3" height="3.0" fill="#8fb58a"/>
<rect x="1520.9" y="1375.6" width="2.3" height="3.0" fill="#8fb58a"/>
<rect x="1524.8" y="1375.6" width="2.3" height="3.0" fill="#8fb58a"/>
<rect x="1528.7" y="1375.6" width="2.3" height="3.0" fill="#8fb58a"/>
<rect x="1482.7" y="1380.4" width="52.2" height="27.6" fill="#796584"/>
<rect x="1485.8" y="1383.3" width="23.2" height="21.5" fill="#937aa1"/>
<rect x="1512.0" y="1383.3" width="13.0" height="14.3" fill="#937aa1"/>
<rect x="1529.2" y="1383.3" width="1.8" height="14.3" fill="#937aa1"/>
<rect x="1512.0" y="1401.2" width="5.0" height="3.6" fill="#937aa1"/>
<rect x="1520.5" y="1401.2" width="3.0" height="3.6" fill="#937aa1"/>
<rect x="1527.8" y="1401.2" width="3.2" height="3.6" fill="#937aa1"/>
</g>
<g>
<text x="295.4" y="26.0" font-size="28.6" fill="#383434" textLength="176.4" lengthAdjust="spacingAndGlyphs" font-weight="bold">Total: $70.5B</text>
<text x="15.0" y="116.2" font-size="70.8" fill="#3b5b6b" textLength="316.1" lengthAdjust="spacingAndGlyphs">Insulated</text>
<text x="21.6" y="190.0" font-size="70.8" fill="#3b5b6b" textLength="147.5" lengthAdjust="spacingAndGlyphs">Wire</text>
<text x="100.3" y="340.0" font-size="90.8" fill="#2b8db6" textLength="216.0" lengthAdjust="spacingAndGlyphs">6.5%</text>
<text x="425.2" y="82.0" font-size="29.6" fill="#3b5b6b" textLength="142.1" lengthAdjust="spacingAndGlyphs">Electrical</text>
<text x="426.3" y="115.8" font-size="29.6" fill="#3b5b6b" textLength="111.8" lengthAdjust="spacingAndGlyphs">Control</text>
<text x="425.3" y="149.5" font-size="29.6" fill="#3b5b6b" textLength="106.0" lengthAdjust="spacingAndGlyphs">Boards</text>
<text x="413.2" y="344.5" font-size="60.3" fill="#2b8db6" textLength="150.6" lengthAdjust="spacingAndGlyphs">2.4%</text>
<text x="577.6" y="68.7" font-size="14.0" fill="#3b5b6b" fill-opacity="0.80" textLength="28.7" lengthAdjust="spacingAndGlyphs">Ball</text>
<text x="577.7" y="86.2" font-size="14.0" fill="#3b5b6b" fill-opacity="0.80" textLength="65.6" lengthAdjust="spacingAndGlyphs">Bearings</text>
<text x="574.3" y="351.2" font-size="26.1" fill="#2b8db6" textLength="67.4" lengthAdjust="spacingAndGlyphs">1.3%</text>
<text x="662.1" y="66.2" font-size="11.5" fill="#3b5b6b" fill-opacity="0.55" textLength="28.6" lengthAdjust="spacingAndGlyphs">Low-</text>
<text x="663.1" y="79.4" font-size="11.5" fill="#3b5b6b" fill-opacity="0.55" textLength="42.6" lengthAdjust="spacingAndGlyphs">Voltage</text>
<text x="662.1" y="92.6" font-size="11.5" fill="#3b5b6b" fill-opacity="0.55" textLength="61.4" lengthAdjust="spacingAndGlyphs">Protection</text>
<text x="662.2" y="105.8" font-size="11.5" fill="#3b5b6b" fill-opacity="0.55" textLength="62.4" lengthAdjust="spacingAndGlyphs">Equipment</text>
<text x="658.0" y="351.2" font-size="26.1" fill="#2b8db6" textLength="67.5" lengthAdjust="spacingAndGlyphs">1.3%</text>
<text x="15.3" y="404.2" font-size="24.0" fill="#3b5b6b" textLength="193.6" lengthAdjust="spacingAndGlyphs">Electric Heaters</text>
<text x="69.5" y="478.2" font-size="30.7" fill="#2b8db6" textLength="76.7" lengthAdjust="spacingAndGlyphs">1.3%</text>
<text x="15.3" y="528.0" font-size="19.1" fill="#3b5b6b" textLength="126.6" lengthAdjust="spacingAndGlyphs">Liquid Pumps</text>
<text x="83.9" y="582.0" font-size="18.4" fill="#2b8db6" textLength="47.3" lengthAdjust="spacingAndGlyphs">1.0%</text>
<text x="15.5" y="623.0" font-size="12.8" fill="#3b5b6b" fill-opacity="0.70" textLength="184.5" lengthAdjust="spacingAndGlyphs">Electrical Lighting and Signalling</text>
<text x="15.4" y="635.0" font-size="12.8" fill="#3b5b6b" fill-opacity="0.70" textLength="62.8" lengthAdjust="spacingAndGlyphs">Equipment</text>
<text x="80.4" y="679.5" font-size="17.5" fill="#2b8db6" textLength="54.8" lengthAdjust="spacingAndGlyphs">0.98%</text>
<text x="17.0" y="725.7" font-size="19.1" fill="#3b5b6b" textLength="93.2" lengthAdjust="spacingAndGlyphs">Air Pumps</text>
<text x="80.4" y="773.7" font-size="17.5" fill="#2b8db6" textLength="54.8" lengthAdjust="spacingAndGlyphs">0.94%</text>
<text x="15.9" y="814.2" font-size="13.5" fill="#3b5b6b" fill-opacity="0.70" textLength="130.8" lengthAdjust="spacingAndGlyphs">Spark-Ignition Engines</text>
<text x="83.8" y="865.0" font-size="16.8" fill="#2b8db6" textLength="47.3" lengthAdjust="spacingAndGlyphs">0.91%</text>
<text x="226.3" y="400.7" font-size="20.9" fill="#3b5b6b" textLength="115.0" lengthAdjust="spacingAndGlyphs">Telephones</text>
<text x="247.1" y="464.5" font-size="23.7" fill="#2b8db6" textLength="75.5" lengthAdjust="spacingAndGlyphs">0.78%</text>
<text x="225.1" y="512.5" font-size="19.1" fill="#3b5b6b" textLength="117.7" lengthAdjust="spacingAndGlyphs">Engine Parts</text>
<text x="249.0" y="572.5" font-size="22.6" fill="#2b8db6" textLength="71.9" lengthAdjust="spacingAndGlyphs">0.74%</text>
<text x="225.0" y="620.0" font-size="19.8" fill="#3b5b6b" textLength="121.9" lengthAdjust="spacingAndGlyphs">Refrigerators</text>
<text x="249.0" y="680.0" font-size="22.6" fill="#2b8db6" textLength="71.9" lengthAdjust="spacingAndGlyphs">0.74%</text>
<text x="225.6" y="721.7" font-size="12.8" fill="#3b5b6b" fill-opacity="0.70" textLength="78.9" lengthAdjust="spacingAndGlyphs">Broadcasting</text>
<text x="225.7" y="734.2" font-size="12.8" fill="#3b5b6b" fill-opacity="0.70" textLength="62.4" lengthAdjust="spacingAndGlyphs">Equipment</text>
<text x="252.8" y="783.2" font-size="21.2" fill="#2b8db6" textLength="64.2" lengthAdjust="spacingAndGlyphs">0.71%</text>
<text x="225.7" y="824.2" font-size="12.8" fill="#3b5b6b" fill-opacity="0.70" textLength="90.7" lengthAdjust="spacingAndGlyphs">Electrical Power</text>
<text x="226.7" y="836.7" font-size="12.8" fill="#3b5b6b" fill-opacity="0.70" textLength="70.5" lengthAdjust="spacingAndGlyphs">Accessories</text>
<text x="364.1" y="478.0" font-size="23.3" fill="#2b8db6" textLength="75.8" lengthAdjust="spacingAndGlyphs">0.55%</text>
<text x="459.0" y="394.2" font-size="12.8" fill="#3b5b6b" fill-opacity="0.60" textLength="60.0" lengthAdjust="spacingAndGlyphs">Machinery</text>
<text x="458.9" y="406.7" font-size="12.8" fill="#3b5b6b" fill-opacity="0.60" textLength="52.4" lengthAdjust="spacingAndGlyphs">Having...</text>
<text x="454.7" y="478.7" font-size="21.9" fill="#2b8db6" textLength="71.2" lengthAdjust="spacingAndGlyphs">0.53%</text>
<text x="546.9" y="400.0" font-size="19.1" fill="#3b5b6b" textLength="59.1" lengthAdjust="spacingAndGlyphs">Valves</text>
<text x="541.6" y="478.7" font-size="19.8" fill="#2b8db6" textLength="63.7" lengthAdjust="spacingAndGlyphs">0.47%</text>
<text x="369.0" y="520.5" font-size="13.3" fill="#3b5b6b" fill-opacity="0.65" textLength="42.5" lengthAdjust="spacingAndGlyphs">Electric</text>
<text x="368.9" y="533.2" font-size="13.3" fill="#3b5b6b" fill-opacity="0.65" textLength="41.8" lengthAdjust="spacingAndGlyphs">Motors</text>
<text x="364.9" y="585.7" font-size="17.7" fill="#2b8db6" textLength="54.4" lengthAdjust="spacingAndGlyphs">0.36%</text>
<text x="369.4" y="625.7" font-size="13.3" fill="#3b5b6b" fill-opacity="0.65" textLength="34.3" lengthAdjust="spacingAndGlyphs">Office</text>
<text x="369.0" y="638.7" font-size="13.3" fill="#3b5b6b" fill-opacity="0.65" textLength="59.2" lengthAdjust="spacingAndGlyphs">Machine...</text>
<text x="461.9" y="625.7" font-size="13.3" fill="#3b5b6b" fill-opacity="0.65" textLength="43.7" lengthAdjust="spacingAndGlyphs">Video...</text>
<text x="369.4" y="689.5" font-size="12.6" fill="#3b5b6b" fill-opacity="0.65" textLength="33.4" lengthAdjust="spacingAndGlyphs">Other</text>
<text x="368.9" y="702.5" font-size="12.6" fill="#3b5b6b" fill-opacity="0.65" textLength="56.7" lengthAdjust="spacingAndGlyphs">Heating...</text>
<text x="369.9" y="747.0" font-size="12.6" fill="#3b5b6b" fill-opacity="0.65" textLength="47.9" lengthAdjust="spacingAndGlyphs">Vacuum</text>
<text x="369.4" y="760.0" font-size="12.6" fill="#3b5b6b" fill-opacity="0.65" textLength="50.6" lengthAdjust="spacingAndGlyphs">Cleaners</text>
<text x="369.4" y="854.5" font-size="13.3" fill="#3b5b6b" fill-opacity="0.65" textLength="45.0" lengthAdjust="spacingAndGlyphs">Other...</text>
<text x="462.0" y="727.0" font-size="13.3" fill="#3b5b6b" fill-opacity="0.65" textLength="44.3" lengthAdjust="spacingAndGlyphs">Audio...</text>
<text x="460.9" y="774.2" font-size="13.3" fill="#3b5b6b" fill-opacity="0.65" textLength="54.0" lengthAdjust="spacingAndGlyphs">Printed...</text>
<text x="461.3" y="820.7" font-size="13.3" fill="#3b5b6b" fill-opacity="0.65" textLength="65.7" lengthAdjust="spacingAndGlyphs">Computers</text>
<text x="18.1" y="956.0" font-size="69.8" fill="#566668" textLength="434.6" lengthAdjust="spacingAndGlyphs">Vehicle Parts</text>
<text x="220.4" y="1185.0" font-size="88.7" fill="#7ea4ac" textLength="190.6" lengthAdjust="spacingAndGlyphs">10%</text>
<text x="16.2" y="1284.3" font-size="64.2" fill="#566668" textLength="138.5" lengthAdjust="spacingAndGlyphs">Cars</text>
<text x="248.9" y="1382.0" font-size="57.3" fill="#7ea4ac" textLength="135.9" lengthAdjust="spacingAndGlyphs">5.7%</text>
<text x="642.0" y="912.5" font-size="18.9" fill="#566668" textLength="89.2" lengthAdjust="spacingAndGlyphs">Passenger</text>
<text x="642.7" y="931.2" font-size="18.9" fill="#566668" textLength="89.5" lengthAdjust="spacingAndGlyphs">and Cargo</text>
<text x="642.7" y="950.0" font-size="18.9" fill="#566668" textLength="46.5" lengthAdjust="spacingAndGlyphs">Ships</text>
<text x="635.2" y="1054.0" font-size="30.0" fill="#7ea4ac" textLength="93.5" lengthAdjust="spacingAndGlyphs">0.96%</text>
<text x="642.7" y="1096.3" font-size="11.5" fill="#566668" fill-opacity="0.75" textLength="43.2" lengthAdjust="spacingAndGlyphs">Aircraft</text>
<text x="641.6" y="1109.9" font-size="11.5" fill="#566668" fill-opacity="0.75" textLength="30.8" lengthAdjust="spacingAndGlyphs">Parts</text>
<text x="748.1" y="77.8" font-size="26.0" fill="#e6dad4" textLength="76.7" lengthAdjust="spacingAndGlyphs">Iron...</text>
<text x="753.9" y="155.1" font-size="29.1" fill="#a4766a" textLength="93.3" lengthAdjust="spacingAndGlyphs">0.81%</text>
<text x="875.0" y="72.3" font-size="19.1" fill="#e6dad4" textLength="41.0" lengthAdjust="spacingAndGlyphs">Hot-</text>
<text x="875.0" y="92.9" font-size="19.1" fill="#e6dad4" textLength="76.8" lengthAdjust="spacingAndGlyphs">Rolled...</text>
<text x="875.5" y="155.1" font-size="26.8" fill="#a4766a" textLength="85.6" lengthAdjust="spacingAndGlyphs">0.70%</text>
<text x="753.7" y="359.0" font-size="13.1" fill="#a4766a" fill-opacity="0.80" textLength="38.4" lengthAdjust="spacingAndGlyphs">0.29%</text>
<text x="749.1" y="397.0" font-size="13.3" fill="#e6dad4" textLength="32.9" lengthAdjust="spacingAndGlyphs">Flat...</text>
<text x="748.9" y="484.2" font-size="13.3" fill="#e6dad4" fill-opacity="0.90" textLength="36.8" lengthAdjust="spacingAndGlyphs">Iron...</text>
<text x="749.6" y="526.8" font-size="13.3" fill="#e6dad4" fill-opacity="0.90" textLength="40.0" lengthAdjust="spacingAndGlyphs">Semi...</text>
<text x="749.6" y="569.6" font-size="13.3" fill="#e6dad4" fill-opacity="0.90" textLength="37.5" lengthAdjust="spacingAndGlyphs">Cold...</text>
<text x="1047.2" y="71.9" font-size="18.0" fill="#dce8d8" textLength="82.0" lengthAdjust="spacingAndGlyphs">Non-Knit</text>
<text x="1048.8" y="92.6" font-size="18.0" fill="#dce8d8" textLength="139.2" lengthAdjust="spacingAndGlyphs">Women'S Suits</text>
<text x="1061.6" y="171.9" font-size="40.4" fill="#6c9e6c" textLength="99.2" lengthAdjust="spacingAndGlyphs">1.1%</text>
<text x="1199.1" y="73.2" font-size="19.8" fill="#dce8d8" textLength="88.8" lengthAdjust="spacingAndGlyphs" font-weight="bold">Non-Knit</text>
<text x="1199.1" y="95.5" font-size="19.8" fill="#dce8d8" textLength="81.2" lengthAdjust="spacingAndGlyphs" font-weight="bold">Men'S...</text>
<text x="1195.0" y="171.9" font-size="35.6" fill="#6c9e6c" textLength="109.6" lengthAdjust="spacingAndGlyphs">0.93%</text>
<text x="1048.0" y="217.6" font-size="13.7" fill="#dce8d8" textLength="27.5" lengthAdjust="spacingAndGlyphs" font-weight="bold">Knit</text>
<text x="1048.5" y="232.3" font-size="13.7" fill="#dce8d8" textLength="62.7" lengthAdjust="spacingAndGlyphs" font-weight="bold">Sweaters</text>
<text x="1045.1" y="298.4" font-size="20.5" fill="#6c9e6c" textLength="63.7" lengthAdjust="spacingAndGlyphs">0.48%</text>
<text x="1127.0" y="299.0" font-size="17.5" fill="#6c9e6c" textLength="54.7" lengthAdjust="spacingAndGlyphs">0.44%</text>
<text x="1201.1" y="299.0" font-size="14.8" fill="#6c9e6c" textLength="47.9" lengthAdjust="spacingAndGlyphs">0.41%</text>
<text x="1047.9" y="339.4" font-size="12.8" fill="#dce8d8" fill-opacity="0.85" textLength="45.7" lengthAdjust="spacingAndGlyphs">Other...</text>
<text x="1047.4" y="411.2" font-size="12.8" fill="#dce8d8" fill-opacity="0.85" textLength="34.3" lengthAdjust="spacingAndGlyphs">Knit...</text>
<text x="1047.5" y="475.5" font-size="12.8" fill="#dce8d8" fill-opacity="0.85" textLength="50.6" lengthAdjust="spacingAndGlyphs">Non-Knit</text>
<text x="1047.5" y="489.1" font-size="12.8" fill="#dce8d8" fill-opacity="0.85" textLength="46.5" lengthAdjust="spacingAndGlyphs">Men'S...</text>
<text x="1331.2" y="106.8" font-size="59.4" fill="#6b5e3a" textLength="184.1" lengthAdjust="spacingAndGlyphs">Wheat</text>
<text x="1350.9" y="213.5" font-size="60.1" fill="#b8952c" textLength="145.6" lengthAdjust="spacingAndGlyphs">2.1%</text>
<text x="1328.1" y="290.9" font-size="44.8" fill="#6b5e3a" textLength="103.6" lengthAdjust="spacingAndGlyphs">Corn</text>
<text x="1446.4" y="265.4" font-size="14.5" fill="#6b5e3a" textLength="76.4" lengthAdjust="spacingAndGlyphs">Sunflower</text>
<text x="1446.5" y="281.4" font-size="14.5" fill="#6b5e3a" textLength="45.1" lengthAdjust="spacingAndGlyphs">Seeds</text>
<text x="1321.4" y="398.0" font-size="45.4" fill="#b8952c" textLength="107.0" lengthAdjust="spacingAndGlyphs">1.0%</text>
<text x="1440.4" y="400.4" font-size="25.1" fill="#b8952c" textLength="84.8" lengthAdjust="spacingAndGlyphs">0.88%</text>
<text x="1328.4" y="453.3" font-size="21.9" fill="#6b5e3a" textLength="119.9" lengthAdjust="spacingAndGlyphs">Rapeseed</text>
<text x="1343.5" y="521.3" font-size="25.1" fill="#b8952c" textLength="84.3" lengthAdjust="spacingAndGlyphs">0.82%</text>
<text x="1328.3" y="569.8" font-size="17.7" fill="#6b5e3a" textLength="58.9" lengthAdjust="spacingAndGlyphs">Barley</text>
<text x="748.5" y="644.1" font-size="42.5" fill="#6e5e68" textLength="269.1" lengthAdjust="spacingAndGlyphs">Rubber Tires</text>
<text x="811.4" y="753.6" font-size="54.6" fill="#b98aa2" textLength="135.1" lengthAdjust="spacingAndGlyphs">2.5%</text>
<text x="750.0" y="802.1" font-size="12.7" fill="#6e5e68" fill-opacity="0.70" textLength="44.5" lengthAdjust="spacingAndGlyphs">Other...</text>
<text x="758.7" y="846.9" font-size="12.4" fill="#b98aa2" textLength="42.1" lengthAdjust="spacingAndGlyphs">0.35%</text>
<text x="749.6" y="887.2" font-size="12.7" fill="#6e5e68" fill-opacity="0.70" textLength="53.1" lengthAdjust="spacingAndGlyphs">Rubber...</text>
<text x="834.5" y="858.4" font-size="12.7" fill="#6e5e68" fill-opacity="0.70" textLength="42.2" lengthAdjust="spacingAndGlyphs">Rubber</text>
<text x="834.4" y="870.8" font-size="12.7" fill="#6e5e68" fill-opacity="0.70" textLength="40.6" lengthAdjust="spacingAndGlyphs">Belting</text>
<text x="834.5" y="912.5" font-size="12.7" fill="#6e5e68" fill-opacity="0.70" textLength="49.1" lengthAdjust="spacingAndGlyphs">Plastic...</text>
<text x="1088.0" y="666.4" font-size="68.0" fill="#dcdcdc" textLength="190.2" lengthAdjust="spacingAndGlyphs">Seats</text>
<text x="1120.0" y="772.9" font-size="63.5" fill="#aaa8a8" textLength="155.3" lengthAdjust="spacingAndGlyphs">2.4%</text>
<text x="1088.2" y="831.0" font-size="22.2" fill="#dcdcdc" textLength="64.9" lengthAdjust="spacingAndGlyphs">Other</text>
<text x="1087.4" y="855.6" font-size="22.2" fill="#dcdcdc" textLength="100.5" lengthAdjust="spacingAndGlyphs">Furniture</text>
<text x="1089.2" y="917.3" font-size="31.1" fill="#aaa8a8" textLength="96.9" lengthAdjust="spacingAndGlyphs">0.84%</text>
<text x="1335.7" y="642.9" font-size="41.9" fill="#d8cccc" textLength="158.8" lengthAdjust="spacingAndGlyphs">Refined</text>
<text x="1335.6" y="687.9" font-size="41.9" fill="#d8cccc" textLength="214.3" lengthAdjust="spacingAndGlyphs">Petroleum</text>
<text x="1331.7" y="836.0" font-size="79.2" fill="#7a5558" textLength="193.5" lengthAdjust="spacingAndGlyphs">2.8%</text>
<text x="1336.0" y="888.7" font-size="12.7" fill="#d8cccc" textLength="71.3" lengthAdjust="spacingAndGlyphs">Petroleum...</text>
<text x="749.5" y="967.9" font-size="16.5" fill="#6b4a64" textLength="83.2" lengthAdjust="spacingAndGlyphs">Packaged</text>
<text x="749.4" y="986.5" font-size="16.5" fill="#6b4a64" textLength="119.3" lengthAdjust="spacingAndGlyphs" clip-path="url(#c0)">Medicaments</text>
<text x="744.5" y="1100.1" font-size="45.4" fill="#b2629c" textLength="112.1" lengthAdjust="spacingAndGlyphs">1.1%</text>
<text x="749.3" y="1151.5" font-size="17.9" fill="#6b4a64" textLength="56.1" lengthAdjust="spacingAndGlyphs">Hair...</text>
<text x="750.2" y="1215.5" font-size="15.2" fill="#f0d4e0" textLength="93.8" lengthAdjust="spacingAndGlyphs" font-weight="bold">Thermostats</text>
<text x="747.8" y="1310.0" font-size="29.6" fill="#d787aa" textLength="92.2" lengthAdjust="spacingAndGlyphs">0.77%</text>
<text x="861.5" y="1213.2" font-size="12.8" fill="#f0d4e0" textLength="32.5" lengthAdjust="spacingAndGlyphs">Utility</text>
<text x="861.4" y="1226.5" font-size="12.8" fill="#f0d4e0" textLength="40.8" lengthAdjust="spacingAndGlyphs">Meters</text>
<text x="749.4" y="1353.2" font-size="12.8" fill="#f0d4e0" textLength="72.0" lengthAdjust="spacingAndGlyphs">Revolution...</text>
<text x="1019.0" y="974.9" font-size="22.9" fill="#6b6040" textLength="79.5" lengthAdjust="spacingAndGlyphs">Rolled</text>
<text x="1020.6" y="1002.5" font-size="22.9" fill="#6b6040" textLength="102.8" lengthAdjust="spacingAndGlyphs">Tobacco</text>
<text x="1025.3" y="1075.8" font-size="38.1" fill="#93a62c" textLength="98.1" lengthAdjust="spacingAndGlyphs">1.0%</text>
<text x="1153.9" y="963.7" font-size="12.0" fill="#8a9a30" textLength="46.6" lengthAdjust="spacingAndGlyphs">Baked...</text>
<text x="1019.6" y="1125.8" font-size="14.1" fill="#f0d4d4" textLength="79.8" lengthAdjust="spacingAndGlyphs" font-weight="bold">Sawn Wood</text>
<text x="1079.9" y="1169.1" font-size="11.9" fill="#d46a6a" textLength="37.5" lengthAdjust="spacingAndGlyphs">0.76%</text>
<text x="1019.0" y="1207.8" font-size="13.4" fill="#f0d4d4" textLength="82.0" lengthAdjust="spacingAndGlyphs">Particle Board</text>
<text x="1204.3" y="1124.6" font-size="13.3" fill="#f0d4d4" textLength="45.1" lengthAdjust="spacingAndGlyphs">Wood...</text>
<text x="1204.3" y="1193.0" font-size="13.3" fill="#f0d4d4" textLength="45.1" lengthAdjust="spacingAndGlyphs">Wood...</text>
<text x="1019.0" y="1289.9" font-size="21.4" fill="#d8ecd0" textLength="93.6" lengthAdjust="spacingAndGlyphs">Leather</text>
<text x="1019.0" y="1316.1" font-size="21.4" fill="#d8ecd0" textLength="113.0" lengthAdjust="spacingAndGlyphs">Footwear</text>
<text x="1044.2" y="1384.4" font-size="38.8" fill="#8fd07a" textLength="98.6" lengthAdjust="spacingAndGlyphs">1.3%</text>
<text x="1190.8" y="1279.9" font-size="12.8" fill="#d8ecd0" textLength="99.9" lengthAdjust="spacingAndGlyphs">Rubber Footwear</text>
<text x="1223.4" y="1325.9" font-size="12.7" fill="#8fd07a" textLength="41.4" lengthAdjust="spacingAndGlyphs">0.55%</text>
<text x="1190.8" y="1370.8" font-size="18.2" fill="#d8ecd0" textLength="102.6" lengthAdjust="spacingAndGlyphs">Footwear...</text>
<text x="1361.4" y="964.7" font-size="12.8" fill="#5a5866" textLength="46.2" lengthAdjust="spacingAndGlyphs" font-weight="bold">Bovine</text>
<text x="1368.2" y="1008.5" font-size="12.6" fill="#c9b884" textLength="37.4" lengthAdjust="spacingAndGlyphs">0.32%</text>
<text x="1361.1" y="1047.1" font-size="12.0" fill="#8a8270" textLength="36.2" lengthAdjust="spacingAndGlyphs">Sheep</text>
<text x="1361.2" y="1060.4" font-size="12.0" fill="#8a8270" textLength="33.3" lengthAdjust="spacingAndGlyphs">and...</text>
</g>
<g>
<g transform="translate(144.60 1417.6)"><rect x="0" y="0" width="52.0" height="52.4" fill="#de9230"/><g transform="scale(1.0058)"><path d="M23.2,6.1 h6.1 v2.3 l0.4,0.6 L34.9,19 q0.4,0.9 0.4,2 V43 q0,1.6 -1.6,1.6 H18.3 q-1.6,0 -1.6,-1.6 V21 q0,-1.1 0.4,-2 L22.4,9 l0.4,-0.6 Z" fill="#fff"/><path d="M24.6,25.2 c3.8,-0.8 6.6,1.6 6.2,5.4 c-0.4,3.6 -3.2,6.2 -7,7.2 c-0.9,0.3 -0.8,1.6 -1,2.6 c-0.2,0.9 -1.3,0.9 -1.4,0 c-0.2,-1.3 0.2,-2.4 -0.9,-3.4 c-2,-1.9 -2.1,-5.2 -0.7,-7.8 c1,-2 2.6,-3.5 4.800,-4 Z" fill="#de9230"/><path d="M27.6,24 c-0.8,-1.700 -0.4,-3.6 0.7,-4.800 c0.800,1.6 0.6,3.400 -0.7,4.800 Z M29.800,25.6 c1.500,-0.9 3.300,-0.7 4.500,0.300 c-1.300,1 -3.100,1 -4.500,-0.300 Z" fill="#de9230"/></g></g>
<g transform="translate(204.33 1417.6)"><rect x="0" y="0" width="52.0" height="52.4" fill="#98df8a"/><g transform="scale(1.0058)"><path d="M25.5,8 c1.700,0.300 2.400,3.600 4.200,6.200 c0.900,1.300 2.500,1.700 5,1.300 c3.300,-0.600 6.800,-1.200 8,0.600 c0.900,1.500 -0.800,3.100 -3.300,4.300 c-2.400,1.100 -4.600,1.900 -5.200,3.500 c-0.600,1.800 0.400,4.400 1.800,7.600 c1.400,3.100 3.600,6.300 3.200,8.600 c-0.300,1.800 -2.200,2.300 -3.600,1.400 c-1.600,-1.100 -2.600,-2.400 -4.800,-2.700 c-2.600,-0.400 -6.200,-0.200 -8.800,0.400 c-2.400,0.600 -3.600,2.600 -5.600,3.300 c-1.700,0.600 -3.200,-0.600 -3,-2.400 c0.300,-2.200 2.400,-4 3.600,-6.600 c1.300,-2.800 1.800,-5.800 1.900,-8.600 c0.100,-1.900 -1.500,-2.400 -3.600,-3.200 c-2.700,-1 -5.800,-2.200 -6,-4.200 c-0.200,-1.800 2,-2.500 4.600,-2.300 c3,0.300 6.400,1.200 8.400,0.300 c2.400,-1.100 2.700,-5.600 3.800,-7.100 c0.400,-0.600 0.900,-0.800 1.400,-0.700 Z" fill="#fff"/></g></g>
<g transform="translate(264.06 1417.6)"><rect x="0" y="0" width="52.0" height="52.4" fill="#ffe999"/><g transform="scale(1.0058)"><path d="M12,17 c1.500,-1.300 4,-1 7,-0.700 c5,0.500 11,0.800 16,0 c2.400,-0.400 4.600,-1.200 6.200,-2.200 l1.700,-1.600 l-0.200,2.200 c1.500,1 2.400,2.600 3.200,4.200 c0.700,1.300 1.300,2 0.800,2.800 c-0.600,1 -2.200,1 -3.600,0.600 c-1.100,1.800 -2,3.700 -2.900,5.500 c-0.800,1.600 -2.400,2.400 -3.800,2.700 l-0.300,4.500 l0.300,5 l-2.200,0.300 l-0.500,-5 l-0.900,-4.400 c-4,0.700 -8,1.200 -11.600,0.500 l-2,3.200 l-1.200,-0.200 l-0.300,2.200 l-1.300,-0.500 l-0.200,2.600 l0.300,3.600 l-2.200,0.300 l-0.800,-4.800 l-1.200,-5.200 c-0.900,-2.600 -0.900,-5.400 -0.500,-8 l-2.800,6.200 l-2.600,3.600 l-0.900,-0.700 l2.800,-4.800 l2.400,-7.400 c0.300,-1.600 0.600,-3.400 1.300,-4.500 Z" fill="#fff"/></g></g>
<g transform="translate(323.79 1417.6)"><rect x="0" y="0" width="52.0" height="52.4" fill="#937aa1"/><g transform="scale(1.0058)"><rect x="9.2" y="9.4" width="33.6" height="33.6" fill="#fff"/><circle cx="10.33" cy="10.90" r="3.70" fill="#fff"/><circle cx="10.33" cy="41.50" r="3.70" fill="#fff"/><circle cx="10.70" cy="10.53" r="3.70" fill="#fff"/><circle cx="41.30" cy="10.53" r="3.70" fill="#fff"/><circle cx="18.16" cy="10.90" r="3.70" fill="#fff"/><circle cx="18.16" cy="41.50" r="3.70" fill="#fff"/><circle cx="10.70" cy="18.37" r="3.70" fill="#fff"/><circle cx="41.30" cy="18.37" r="3.70" fill="#fff"/><circle cx="26.00" cy="10.90" r="3.70" fill="#fff"/><circle cx="26.00" cy="41.50" r="3.70" fill="#fff"/><circle cx="10.70" cy="26.20" r="3.70" fill="#fff"/><circle cx="41.30" cy="26.20" r="3.70" fill="#fff"/><circle cx="33.84" cy="10.90" r="3.70" fill="#fff"/><circle cx="33.84" cy="41.50" r="3.70" fill="#fff"/><circle cx="10.70" cy="34.03" r="3.70" fill="#fff"/><circle cx="41.30" cy="34.03" r="3.70" fill="#fff"/><circle cx="41.67" cy="10.90" r="3.70" fill="#fff"/><circle cx="41.67" cy="41.50" r="3.70" fill="#fff"/><circle cx="10.70" cy="41.87" r="3.70" fill="#fff"/><circle cx="41.30" cy="41.87" r="3.70" fill="#fff"/><rect x="14.4" y="14.6" width="23.2" height="23.2" fill="#937aa1"/><path d="M17,35.3 L21.100,25.600 L25.200,29 L31.100,19.600 L34.800,35.300 Z" fill="#fff"/></g></g>
<g transform="translate(383.52 1417.6)"><rect x="0" y="0" width="52.0" height="52.4" fill="#e377c2"/><g transform="scale(1.0058)"><path d="M21.700,7.800 h7.600 M22.600,7.800 v7 L11.800,36.500 c-1.800,4.600 6,8.300 13.700,8.300 c7.700,0 15.500,-3.700 13.700,-8.300 L28.400,14.800 v-7 M22.600,11.300 h5.800" fill="none" stroke="#fff" stroke-width="1.500" stroke-linecap="round"/><path d="M17.800,28.300 c2,-2.300 13.400,-2.300 15.400,0 L37.600,37 c1.300,3.400 -5.600,6.200 -12.100,6.200 c-6.500,0 -13.400,-2.800 -12.100,-6.200 Z" fill="#fff"/><path d="M31,15.500 L37.800,31" stroke="#fff" stroke-width="0.800" fill="none"/></g></g>
<g transform="translate(443.25 1417.6)"><rect x="0" y="0" width="52.0" height="52.4" fill="#d4ff00"/><g transform="scale(1.0058)"><line x1="14.3" y1="45.3" x2="14.3" y2="11.9" stroke="#fff" stroke-width="1.5"/><ellipse cx="11.23" cy="33.95" rx="4.30" ry="1.90" fill="#fff" transform="rotate(-128.0 11.23 33.95)"/><ellipse cx="17.37" cy="33.95" rx="4.30" ry="1.90" fill="#fff" transform="rotate(-52.0 17.37 33.95)"/><ellipse cx="11.23" cy="27.77" rx="4.30" ry="1.90" fill="#fff" transform="rotate(-128.0 11.23 27.77)"/><ellipse cx="17.37" cy="27.77" rx="4.30" ry="1.90" fill="#fff" transform="rotate(-52.0 17.37 27.77)"/><ellipse cx="11.23" cy="21.58" rx="4.30" ry="1.90" fill="#fff" transform="rotate(-128.0 11.23 21.58)"/><ellipse cx="17.37" cy="21.58" rx="4.30" ry="1.90" fill="#fff" transform="rotate(-52.0 17.37 21.58)"/><ellipse cx="11.23" cy="15.40" rx="4.30" ry="1.90" fill="#fff" transform="rotate(-128.0 11.23 15.40)"/><ellipse cx="17.37" cy="15.40" rx="4.30" ry="1.90" fill="#fff" transform="rotate(-52.0 17.37 15.40)"/><ellipse cx="14.30" cy="12.07" rx="4.30" ry="1.90" fill="#fff" transform="rotate(-90.0 14.30 12.07)"/><line x1="25.2" y1="45.7" x2="38.9" y2="15.6" stroke="#fff" stroke-width="1.5"/><ellipse cx="27.13" cy="34.40" rx="4.10" ry="1.80" fill="#fff" transform="rotate(-103.5 27.13 34.40)"/><ellipse cx="32.46" cy="36.82" rx="4.10" ry="1.80" fill="#fff" transform="rotate(-27.5 32.46 36.82)"/><ellipse cx="29.66" cy="28.83" rx="4.10" ry="1.80" fill="#fff" transform="rotate(-103.5 29.66 28.83)"/><ellipse cx="34.99" cy="31.26" rx="4.10" ry="1.80" fill="#fff" transform="rotate(-27.5 34.99 31.26)"/><ellipse cx="32.19" cy="23.26" rx="4.10" ry="1.80" fill="#fff" transform="rotate(-103.5 32.19 23.26)"/><ellipse cx="37.52" cy="25.69" rx="4.10" ry="1.80" fill="#fff" transform="rotate(-27.5 37.52 25.69)"/><ellipse cx="34.73" cy="17.70" rx="4.10" ry="1.80" fill="#fff" transform="rotate(-103.5 34.73 17.70)"/><ellipse cx="40.06" cy="20.12" rx="4.10" ry="1.80" fill="#fff" transform="rotate(-27.5 40.06 20.12)"/><ellipse cx="38.87" cy="15.66" rx="4.10" ry="1.80" fill="#fff" transform="rotate(-65.5 38.87 15.66)"/></g></g>
<g transform="translate(502.98 1417.6)"><rect x="0" y="0" width="52.0" height="52.4" fill="#3baf1e"/><g transform="scale(1.0058)"><path d="M6.500,34 c0,-3 1.200,-6 1.600,-9 c0.300,-2.400 0.300,-5 1.300,-6.200 c1,-1.100 2.800,-0.700 3.600,0.200 c1,1.200 1.600,2.400 3,2.400 c1.600,0 2.600,-0.800 3.600,-2.400 c1.200,-2 2.500,-4.400 4,-4.900 c1.200,-0.400 1.900,0.700 2.600,1.900 c1.600,2.700 3.600,5.400 6.600,7 c3.200,1.700 7.400,2.300 10.400,2.900 c2.400,0.500 2.900,2.400 2.700,4.200 c-0.300,2.400 -2,3.400 -4.600,4 c-5.600,1.300 -13,1.500 -18,0.900 c-1,-0.100 -1.700,-0.800 -2.400,-0.900 c-0.700,-0.100 -1.300,0.500 -2.400,0.800 c-3.400,0.800 -7.400,0.500 -10.400,0 c-1,-0.200 -1.600,-0.400 -1.600,-0.900 Z" fill="#fff"/></g></g>
<g transform="translate(562.71 1417.6)"><rect x="0" y="0" width="52.0" height="52.4" fill="#ad1d5f"/><g transform="scale(1.0058)"><circle cx="25.800" cy="26.300" r="18.600" fill="#fff"/><path d="M17.89,35.72 A12.300,12.300 0 1 1 33.71,35.72" fill="none" stroke="#ad1d5f" stroke-width="1.500"/><line x1="18.99" y1="34.42" x2="16.16" y2="37.79" stroke="#ad1d5f" stroke-width="1.500"/><line x1="15.20" y1="26.30" x2="10.80" y2="26.30" stroke="#ad1d5f" stroke-width="1.500"/><line x1="18.30" y1="18.80" x2="15.19" y2="15.69" stroke="#ad1d5f" stroke-width="1.500"/><line x1="25.80" y1="15.70" x2="25.80" y2="11.30" stroke="#ad1d5f" stroke-width="1.500"/><line x1="33.30" y1="18.80" x2="36.41" y2="15.69" stroke="#ad1d5f" stroke-width="1.500"/><line x1="36.40" y1="26.30" x2="40.80" y2="26.30" stroke="#ad1d5f" stroke-width="1.500"/><line x1="32.61" y1="34.42" x2="35.44" y2="37.79" stroke="#ad1d5f" stroke-width="1.500"/><path d="M15,15.800 L18.200,14.800 L28.600,25 L24.600,28.800 Z" fill="#ad1d5f"/><circle cx="25.800" cy="26.600" r="3.100" fill="#ad1d5f"/><circle cx="25.800" cy="26.600" r="1.300" fill="#fff"/></g></g>
<g transform="translate(622.44 1417.6)"><rect x="0" y="0" width="52.0" height="52.4" fill="#17bbef"/><g transform="scale(1.0058)"><polygon points="39.16,15.98 39.16,19.22 36.71,19.23 35.87,21.26 37.59,23.01 35.31,25.29 33.56,23.57 31.53,24.41 31.52,26.86 28.28,26.86 28.27,24.41 26.24,23.57 24.49,25.29 22.21,23.01 23.93,21.26 23.09,19.23 20.64,19.22 20.64,15.98 23.09,15.97 23.93,13.94 22.21,12.19 24.49,9.91 26.24,11.63 28.27,10.79 28.28,8.34 31.52,8.34 31.53,10.79 33.56,11.63 35.31,9.91 37.59,12.19 35.87,13.94 36.71,15.97" fill="#fff"/><circle cx="29.90" cy="17.60" r="3.20" fill="#17bbef"/><polygon points="28.17,30.30 28.17,33.70 25.42,33.75 24.62,35.94 26.69,37.75 24.51,40.35 22.37,38.62 20.35,39.79 20.78,42.51 17.43,43.10 16.91,40.39 14.60,39.99 13.19,42.35 10.24,40.65 11.58,38.24 10.08,36.45 7.47,37.35 6.31,34.16 8.88,33.17 8.88,30.83 6.31,29.84 7.47,26.65 10.08,27.55 11.58,25.76 10.24,23.35 13.19,21.65 14.60,24.01 16.91,23.61 17.43,20.90 20.78,21.49 20.35,24.21 22.37,25.38 24.51,23.65 26.69,26.25 24.62,28.06 25.42,30.25" fill="#fff"/><circle cx="17.20" cy="32.00" r="4.10" fill="#17bbef"/><polygon points="46.37,30.76 46.37,33.64 44.13,33.65 43.39,35.44 44.97,37.03 42.93,39.07 41.34,37.49 39.55,38.23 39.54,40.47 36.66,40.47 36.65,38.23 34.86,37.49 33.27,39.07 31.23,37.03 32.81,35.44 32.07,33.65 29.83,33.64 29.83,30.76 32.07,30.75 32.81,28.96 31.23,27.37 33.27,25.33 34.86,26.91 36.65,26.17 36.66,23.93 39.54,23.93 39.55,26.17 41.34,26.91 42.93,25.33 44.97,27.37 43.39,28.96 44.13,30.75" fill="#fff"/><circle cx="38.10" cy="32.20" r="2.90" fill="#17bbef"/></g></g>
<g transform="translate(682.17 1417.6)"><rect x="0" y="0" width="52.0" height="52.4" fill="#5e1d08"/><g transform="scale(1.0058)"><path d="M5.500,16.300 H38 v1.300 h2 v-1.300 H47 V26.200 H40 c-2.600,0 -4.600,1.400 -4.600,3 c0,1 0.600,1.600 2.300,1.700 V38 H15.200 V31 c1.600,-0.200 2.200,-0.900 2.200,-1.800 c0,-1.700 -1.200,-3 -3.400,-3.200 c-4.800,-0.600 -8,-4.800 -8.500,-9.700 Z" fill="#fff"/></g></g>
<g transform="translate(741.90 1417.6)"><rect x="0" y="0" width="52.0" height="52.4" fill="#330000"/><g transform="scale(1.0058)"><path d="M8.600,18.600 c5.400,-5 12.800,-7.400 18.400,-7 c0.400,-1.200 1.500,-1.900 2.700,-1.600 c1.300,0.300 2,1.500 1.700,2.700 c5.200,2.800 9.800,8.600 11.600,15.400 c-3.400,-4.600 -7.800,-8 -12.400,-10 L23.600,40 c-0.400,1.400 -1.800,2.100 -3,1.700 c-1.300,-0.400 -1.900,-1.700 -1.500,-3 L25.400,16.600 c-5.600,-0.900 -11.400,0.100 -16.800,2 Z" fill="#fff"/></g></g>
<g transform="translate(801.63 1417.6)"><rect x="0" y="0" width="52.0" height="52.4" fill="#7f7f7f"/><g transform="scale(1.0058)"><path d="M12,27 L24.800,33.600 L42.400,25.500 V36.500 L24.800,44.600 L12,37 Z" fill="#fff"/><path d="M6.200,23 L11.600,17.800 L24.300,24.600 L19,30.200 Z M25.800,25 L42.800,17.400 L44,24 L27.400,31.800 Z M38,11.200 L46,16 L43.600,18.400 L36,14 Z M11.600,16.800 L22,11.400 L24.500,13 L14.400,18.400 Z" fill="#fff"/><path d="M22,12.600 L27.500,8.200 L35.500,11.800 L30.800,16.400 Z M14.600,19.200 L23.200,14.400 L30.400,18.400 L22.600,23.400 Z M31.600,17.800 L37.400,14.400 L42,17 L35,20.600 Z M24,24.200 L31,19.400 L36.600,21.600 L27.600,26 Z" fill="#fff" stroke="#7f7f7f" stroke-width="0.500"/><path d="M24.800,33.600 V44.600" stroke="#7f7f7f" stroke-width="0.600"/></g></g>
<g transform="translate(861.36 1417.6)"><rect x="0" y="0" width="52.0" height="52.4" fill="#efe7d9"/><g transform="scale(1.0058)"><g fill="none" stroke="#fff" stroke-width="1.100"><path d="M12,8.700 H38 q2.600,0 2.600,2.600 V36.800 M14.400,13.500 V40 q0,3 3.400,3 H41 q3,0 3,-3.200 V37 H22 v3 q0,3 -3.600,3"/><circle cx="11.400" cy="11.700" r="3"/></g><g fill="#fff"><rect x="20.200" y="13.300" width="14" height="1.300"/><rect x="18.400" y="18.700" width="7" height="5.300"/><rect x="27.800" y="18.900" width="8.600" height="1.300"/><rect x="27.800" y="23" width="8.600" height="1.300"/><rect x="17.800" y="27.600" width="18.800" height="1.300"/><rect x="17.800" y="32" width="18.800" height="1.300"/></g></g></g>
<g transform="translate(921.09 1417.6)"><rect x="0" y="0" width="52.0" height="52.4" fill="#f7b6d2"/><g transform="scale(1.0058)"><polygon points="-12.2,-8.4 -7.9,-15.3 -3.9,-15.5 -1.4,-10.5 -5.7,-3.3" fill="#fff" transform="translate(26.1 26.1) rotate(0)"/><polygon points="-3.1,-16.1 6.7,-16.1 9.8,-10.7 12.6,-12.5 9.3,-5.0 0.9,-5.2 2.5,-7.9 0.3,-10.7" fill="#fff" transform="translate(26.1 26.1) rotate(0)"/><polygon points="-12.2,-8.4 -7.9,-15.3 -3.9,-15.5 -1.4,-10.5 -5.7,-3.3" fill="#fff" transform="translate(26.1 26.1) rotate(120)"/><polygon points="-3.1,-16.1 6.7,-16.1 9.8,-10.7 12.6,-12.5 9.3,-5.0 0.9,-5.2 2.5,-7.9 0.3,-10.7" fill="#fff" transform="translate(26.1 26.1) rotate(120)"/><polygon points="-12.2,-8.4 -7.9,-15.3 -3.9,-15.5 -1.4,-10.5 -5.7,-3.3" fill="#fff" transform="translate(26.1 26.1) rotate(240)"/><polygon points="-3.1,-16.1 6.7,-16.1 9.8,-10.7 12.6,-12.5 9.3,-5.0 0.9,-5.2 2.5,-7.9 0.3,-10.7" fill="#fff" transform="translate(26.1 26.1) rotate(240)"/></g></g>
<g transform="translate(980.82 1417.6)"><rect x="0" y="0" width="52.0" height="52.4" fill="#782173"/><g transform="scale(1.0058)"><path d="M14.300,13.200 H37.700 L45,21 L26,41.500 L7,21 Z" fill="#fff"/><path d="M6,21.800 H46 M14.300,13.200 L19.600,21.800 L26,13.200 L32.400,21.800 L37.700,13.200 M19.600,21.800 L26,41.500 L32.400,21.800" fill="none" stroke="#782173" stroke-width="1.500"/></g></g>
<g transform="translate(1040.55 1417.6)"><rect x="0" y="0" width="52.0" height="52.4" fill="#d66011"/><g transform="scale(1.0058)"><path d="M9.600,8.900 H15 c2,0 2.600,1.200 2.600,3.400 c0,3.600 0.200,6.600 1.800,9 c1.600,2.500 4.200,3.800 6.200,6 c2.400,2.600 3.400,5.600 5.200,8.600 c1.300,2.200 3.600,4.200 6.400,6.300 H9.600 Z" fill="#fff"/><path d="M34,25.600 l3.200,-1.200 l3.600,1.400 l1.300,3.800 l-1.700,3.400 l-3.600,1 l-3.200,-1.800 l-1,-3.400 Z M26.200,18 l2.600,-0.800 l2.200,1.600 l0.400,2.800 l-1.900,1.800 l-2.700,-0.400 l-1.300,-2.400 Z" fill="#fff"/><circle cx="21.700" cy="15.900" r="1.800" fill="#fff"/><circle cx="22.900" cy="21.100" r="1.500" fill="#fff"/><circle cx="30.900" cy="26.500" r="1.600" fill="#fff"/></g></g>
<g transform="translate(1100.28 1417.6)"><rect x="0" y="0" width="52.0" height="52.4" fill="#125a12"/><g transform="scale(1.0058)"><path d="M19.900,8.900 c1.500,3 10.700,3 12.300,0 L38,11.300 L44.800,18.300 L38.400,24.200 L36.100,22.300 V43.700 H16.400 V22.300 L14.100,24.200 L7,18.300 L13.800,11.300 Z" fill="#fff"/></g></g>
<g transform="translate(1160.01 1417.6)"><rect x="0" y="0" width="52.0" height="52.4" fill="#9fd9e5"/><g transform="scale(1.0058)"><path d="M19.600,9.700 H33.600 L42.200,41 H10.800 Z" fill="#fff"/><g fill="#9fd9e5"><rect x="25.500" y="10.900" width="1.600" height="3"/><rect x="25.500" y="19.100" width="1.600" height="3.500"/><rect x="25.500" y="27.900" width="1.600" height="3.500"/><rect x="25.500" y="36.100" width="1.600" height="3.500"/></g></g></g>
<g transform="translate(1219.74 1417.6)"><rect x="0" y="0" width="52.0" height="52.4" fill="#ffc41c"/><g transform="scale(1.0058)"><path d="M25.800,16.400 c4,-1.600 10,-1 13.800,2.600 c4.600,4.400 5.200,11.600 2,16.800 c-3.200,5.200 -9.600,7.400 -15.800,7.400 c-6.200,0 -12.600,-2.200 -15.800,-7.400 c-3.200,-5.200 -2.600,-12.400 2,-16.800 c3.800,-3.600 9.800,-4.200 13.800,-2.600 Z" fill="#fff"/><path d="M24.900,9.400 L26.800,14.400 L32.400,14 L28.400,17.600 L31.400,22 L25.600,19.600 L20,23 L21.600,17.800 L17.600,14.800 L23,14.600 Z" fill="#fff" stroke="#ffc41c" stroke-width="0.800"/></g></g>
<g transform="translate(1279.47 1417.6)"><rect x="0" y="0" width="52.0" height="52.4" fill="#a4bc9c"/><g transform="scale(1.0058)"><rect x="21" y="10.700" width="9.800" height="4" fill="none" stroke="#fff" stroke-width="1.500"/><path d="M10.600,37 V19 q0,-4.500 4.500,-4.500 H36.500 q4.500,0 4.500,4.500 V37" fill="none" stroke="#fff" stroke-width="2.500"/><rect x="8.200" y="36.600" width="34.800" height="3.300" fill="#fff"/><path d="M14.9,34.900 V22 q0,-2.600 2.900,-4.800 q2.900,2.200 2.900,4.800 V34.900 Z" fill="#fff"/><rect x="14.3" y="30.200" width="7" height="1.300" fill="#a4bc9c"/><path d="M22.9,34.900 V22 q0,-2.600 2.900,-4.800 q2.900,2.200 2.900,4.800 V34.900 Z" fill="#fff"/><rect x="22.3" y="30.200" width="7" height="1.300" fill="#a4bc9c"/><path d="M30.5,34.900 V22 q0,-2.600 2.900,-4.800 q2.900,2.200 2.900,4.800 V34.900 Z" fill="#fff"/><rect x="29.9" y="30.200" width="7" height="1.300" fill="#a4bc9c"/></g></g>
<g transform="translate(1339.20 1417.6)"><rect x="0" y="0" width="52.0" height="52.4" fill="#b30000"/><g transform="scale(1.0058)"><path d="M6.400,32.600 L25.300,17.400 V11 h3.200 V14.800 L35.700,9.200 c3.800,2.600 7.400,6.600 9.400,11 L15.200,43.800 c-1.300,-4.400 -4.800,-8.600 -8.800,-11.200 Z" fill="#fff"/><path d="M11.600,39.200 L20.600,33.400" stroke="#b30000" stroke-width="0.500" stroke-opacity="0.500"/></g></g>
</g>
</svg>
</body></html>
